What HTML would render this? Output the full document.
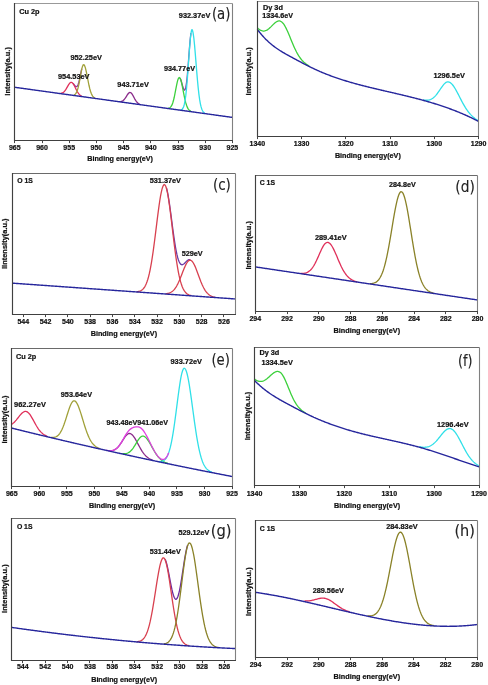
<!DOCTYPE html>
<html><head><meta charset="utf-8"><style>
html,body{margin:0;padding:0;background:#fff;}
body{width:488px;height:685px;overflow:hidden;}
svg{display:block;}
</style></head><body>
<svg width="488" height="685" viewBox="0 0 488 685">
<rect width="488" height="685" fill="#fff"/>
<path d="M73.02,83.3 L73.75,84.21 L74.48,85.2 L75.2,86.07 L75.93,86.63 L76.66,86.67 L77.39,86.02 L78.12,84.56 L78.84,82.27 L79.57,79.25 L80.3,75.74 L81.03,72.09 L81.75,68.75" fill="none" stroke="#8a3aa0" stroke-width="1.3"/>
<path d="M180,77.96 L180.73,79.47 L181.46,81.74 L182.18,84.42 L182.91,87.05 L183.64,89.13 L184.37,90.14 L185.1,89.61 L185.82,87.13 L186.55,82.51 L187.28,75.79 L188.01,67.32 L188.73,57.78 L189.46,48.14 L190.19,39.55 L190.92,33.13" fill="none" stroke="#8a3aa0" stroke-width="1.3"/>
<path d="M60.65,93.3 L61.38,93.19 L62.1,92.98 L62.83,92.65 L63.56,92.17 L64.29,91.51 L65.02,90.66 L65.74,89.63 L66.47,88.44 L67.2,87.16 L67.93,85.85 L68.65,84.61 L69.38,83.55 L70.11,82.77 L70.84,82.35 L71.57,82.33 L72.29,82.74 L73.02,83.54 L73.75,84.66 L74.48,86.01 L75.2,87.49 L75.93,89 L76.66,90.45 L77.39,91.77 L78.12,92.92 L78.84,93.89 L79.57,94.67 L80.3,95.28 L81.03,95.75 L81.75,96.11" fill="none" stroke="#e0305a" stroke-width="1.3"/>
<path d="M73.75,95.01 L74.48,94.74 L75.2,94.24 L75.93,93.39 L76.66,92.08 L77.39,90.21 L78.12,87.7 L78.84,84.54 L79.57,80.84 L80.3,76.82 L81.03,72.8 L81.75,69.2 L82.48,66.44 L83.21,64.87 L83.94,64.7 L84.66,65.76 L85.39,67.88 L86.12,70.85 L86.85,74.4 L87.58,78.21 L88.3,82 L89.03,85.52 L89.76,88.63 L90.49,91.23 L91.21,93.31 L91.94,94.9 L92.67,96.08 L93.4,96.93 L94.13,97.53 L94.85,97.94" fill="none" stroke="#a0a038" stroke-width="1.3"/>
<path d="M120.33,101.59 L121.05,101.49 L121.78,101.29 L122.51,100.96 L123.24,100.47 L123.96,99.8 L124.69,98.95 L125.42,97.93 L126.15,96.79 L126.87,95.62 L127.6,94.49 L128.33,93.53 L129.06,92.84 L129.79,92.51 L130.51,92.58 L131.24,93.06 L131.97,93.91 L132.7,95.04 L133.42,96.35 L134.15,97.73 L134.88,99.07 L135.61,100.31 L136.34,101.39 L137.06,102.29 L137.79,103 L138.52,103.55 L139.25,103.97 L139.97,104.29" fill="none" stroke="#8a2a8a" stroke-width="1.3"/>
<path d="M168.36,108.22 L169.08,108.06 L169.81,107.73 L170.54,107.16 L171.27,106.24 L172,104.89 L172.72,103.01 L173.45,100.55 L174.18,97.51 L174.91,93.99 L175.63,90.16 L176.36,86.31 L177.09,82.78 L177.82,79.94 L178.55,78.1 L179.27,77.5 L180,78.12 L180.73,79.81 L181.46,82.41 L182.18,85.69 L182.91,89.36 L183.64,93.13 L184.37,96.76 L185.1,100.07 L185.82,102.92 L186.55,105.28 L187.28,107.14 L188.01,108.57 L188.73,109.61 L189.46,110.37 L190.19,110.9 L190.92,111.28" fill="none" stroke="#3cd03c" stroke-width="1.3"/>
<path d="M180.73,109.91 L181.46,109.68 L182.18,109.18 L182.91,108.24 L183.64,106.65 L184.37,104.14 L185.1,100.4 L185.82,95.17 L186.55,88.29 L187.28,79.81 L188.01,70.01 L188.73,59.53 L189.46,49.24 L190.19,40.21 L190.92,33.51 L191.65,30 L192.37,30.01 L193.1,32.81 L193.83,38.01 L194.56,45.14 L195.28,53.58 L196.01,62.65 L196.74,71.73 L197.47,80.27 L198.2,87.89 L198.92,94.38 L199.65,99.67 L200.38,103.8 L201.11,106.91 L201.83,109.17 L202.56,110.76 L203.29,111.84 L204.02,112.57 L204.75,113.06" fill="none" stroke="#30e0e8" stroke-width="1.3"/>
<path d="M14.8,87.3 L15.53,87.4 L16.26,87.5 L16.98,87.6 L17.71,87.7 L18.44,87.8 L19.17,87.9 L19.89,88 L20.62,88.11 L21.35,88.21 L22.08,88.31 L22.81,88.41 L23.53,88.51 L24.26,88.61 L24.99,88.71 L25.72,88.81 L26.44,88.91 L27.17,89.01 L27.9,89.11 L28.63,89.21 L29.36,89.31 L30.08,89.41 L30.81,89.51 L31.54,89.62 L32.27,89.72 L32.99,89.82 L33.72,89.92 L34.45,90.02 L35.18,90.12 L35.91,90.22 L36.63,90.32 L37.36,90.42 L38.09,90.52 L38.82,90.62 L39.54,90.72 L40.27,90.82 L41,90.92 L41.73,91.02 L42.45,91.13 L43.18,91.23 L43.91,91.33 L44.64,91.43 L45.37,91.53 L46.09,91.63 L46.82,91.73 L47.55,91.83 L48.28,91.93 L49,92.03 L49.73,92.13 L50.46,92.23 L51.19,92.33 L51.92,92.43 L52.64,92.53 L53.37,92.64 L54.1,92.74 L54.83,92.84 L55.55,92.94 L56.28,93.04 L57.01,93.14 L57.74,93.24 L58.47,93.34 L59.19,93.44 L59.92,93.54 L60.65,93.64 L61.38,93.74 L62.1,93.84 L62.83,93.94 L63.56,94.04 L64.29,94.15 L65.02,94.25 L65.74,94.35 L66.47,94.45 L67.2,94.55 L67.93,94.65 L68.65,94.75 L69.38,94.85 L70.11,94.95 L70.84,95.05 L71.57,95.15 L72.29,95.25 L73.02,95.35 L73.75,95.45 L74.48,95.55 L75.2,95.66 L75.93,95.76 L76.66,95.86 L77.39,95.96 L78.12,96.06 L78.84,96.16 L79.57,96.26 L80.3,96.36 L81.03,96.46 L81.75,96.56 L82.48,96.66 L83.21,96.76 L83.94,96.86 L84.66,96.96 L85.39,97.06 L86.12,97.17 L86.85,97.27 L87.58,97.37 L88.3,97.47 L89.03,97.57 L89.76,97.67 L90.49,97.77 L91.21,97.87 L91.94,97.97 L92.67,98.07 L93.4,98.17 L94.13,98.27 L94.85,98.37 L95.58,98.47 L96.31,98.57 L97.04,98.68 L97.76,98.78 L98.49,98.88 L99.22,98.98 L99.95,99.08 L100.68,99.18 L101.4,99.28 L102.13,99.38 L102.86,99.48 L103.59,99.58 L104.31,99.68 L105.04,99.78 L105.77,99.88 L106.5,99.98 L107.23,100.08 L107.95,100.19 L108.68,100.29 L109.41,100.39 L110.14,100.49 L110.86,100.59 L111.59,100.69 L112.32,100.79 L113.05,100.89 L113.78,100.99 L114.5,101.09 L115.23,101.19 L115.96,101.29 L116.69,101.39 L117.41,101.49 L118.14,101.59 L118.87,101.7 L119.6,101.8 L120.33,101.9 L121.05,102 L121.78,102.1 L122.51,102.2 L123.24,102.3 L123.96,102.4 L124.69,102.5 L125.42,102.6 L126.15,102.7 L126.87,102.8 L127.6,102.9 L128.33,103 L129.06,103.11 L129.79,103.21 L130.51,103.31 L131.24,103.41 L131.97,103.51 L132.7,103.61 L133.42,103.71 L134.15,103.81 L134.88,103.91 L135.61,104.01 L136.34,104.11 L137.06,104.21 L137.79,104.31 L138.52,104.41 L139.25,104.51 L139.97,104.62 L140.7,104.72 L141.43,104.82 L142.16,104.92 L142.89,105.02 L143.61,105.12 L144.34,105.22 L145.07,105.32 L145.8,105.42 L146.52,105.52 L147.25,105.62 L147.98,105.72 L148.71,105.82 L149.44,105.92 L150.16,106.02 L150.89,106.13 L151.62,106.23 L152.35,106.33 L153.07,106.43 L153.8,106.53 L154.53,106.63 L155.26,106.73 L155.99,106.83 L156.71,106.93 L157.44,107.03 L158.17,107.13 L158.9,107.23 L159.62,107.33 L160.35,107.43 L161.08,107.53 L161.81,107.64 L162.54,107.74 L163.26,107.84 L163.99,107.94 L164.72,108.04 L165.45,108.14 L166.17,108.24 L166.9,108.34 L167.63,108.44 L168.36,108.54 L169.08,108.64 L169.81,108.74 L170.54,108.84 L171.27,108.94 L172,109.04 L172.72,109.15 L173.45,109.25 L174.18,109.35 L174.91,109.45 L175.63,109.55 L176.36,109.65 L177.09,109.75 L177.82,109.85 L178.55,109.95 L179.27,110.05 L180,110.15 L180.73,110.25 L181.46,110.35 L182.18,110.45 L182.91,110.55 L183.64,110.66 L184.37,110.76 L185.1,110.86 L185.82,110.96 L186.55,111.06 L187.28,111.16 L188.01,111.26 L188.73,111.36 L189.46,111.46 L190.19,111.56 L190.92,111.66 L191.65,111.76 L192.37,111.86 L193.1,111.96 L193.83,112.06 L194.56,112.17 L195.28,112.27 L196.01,112.37 L196.74,112.47 L197.47,112.57 L198.2,112.67 L198.92,112.77 L199.65,112.87 L200.38,112.97 L201.11,113.07 L201.83,113.17 L202.56,113.27 L203.29,113.37 L204.02,113.47 L204.75,113.57 L205.47,113.68 L206.2,113.78 L206.93,113.88 L207.66,113.98 L208.38,114.08 L209.11,114.18 L209.84,114.28 L210.57,114.38 L211.29,114.48 L212.02,114.58 L212.75,114.68 L213.48,114.78 L214.21,114.88 L214.93,114.98 L215.66,115.08 L216.39,115.19 L217.12,115.29 L217.84,115.39 L218.57,115.49 L219.3,115.59 L220.03,115.69 L220.76,115.79 L221.48,115.89 L222.21,115.99 L222.94,116.09 L223.67,116.19 L224.39,116.29 L225.12,116.39 L225.85,116.49 L226.58,116.59 L227.31,116.7 L228.03,116.8 L228.76,116.9 L229.49,117 L230.22,117.1 L230.94,117.2 L231.67,117.3 L232.4,117.4" fill="none" stroke="#26269c" stroke-width="1.4"/>
<path d="M14.5,3.5 H232.5" stroke="#999" stroke-width="1.1" fill="none"/>
<path d="M232.5,3.5 V140.5" stroke="#808080" stroke-width="1.1" fill="none"/>
<path d="M14.5,3 V140.5 H233" stroke="#404040" stroke-width="1.15" fill="none"/>
<line x1="14.5" y1="140.5" x2="14.5" y2="143.1" stroke="#444" stroke-width="1"/>
<text x="14.8" y="149.8" font-size="7.0" font-weight="bold" text-anchor="middle" fill="#111" stroke="#111" stroke-width="0.22" font-family='"Liberation Sans", Arial, sans-serif'>965</text>
<line x1="42.5" y1="140.5" x2="42.5" y2="143.1" stroke="#444" stroke-width="1"/>
<text x="42" y="149.8" font-size="7.0" font-weight="bold" text-anchor="middle" fill="#111" stroke="#111" stroke-width="0.22" font-family='"Liberation Sans", Arial, sans-serif'>960</text>
<line x1="69.5" y1="140.5" x2="69.5" y2="143.1" stroke="#444" stroke-width="1"/>
<text x="69.2" y="149.8" font-size="7.0" font-weight="bold" text-anchor="middle" fill="#111" stroke="#111" stroke-width="0.22" font-family='"Liberation Sans", Arial, sans-serif'>955</text>
<line x1="96.5" y1="140.5" x2="96.5" y2="143.1" stroke="#444" stroke-width="1"/>
<text x="96.4" y="149.8" font-size="7.0" font-weight="bold" text-anchor="middle" fill="#111" stroke="#111" stroke-width="0.22" font-family='"Liberation Sans", Arial, sans-serif'>950</text>
<line x1="123.5" y1="140.5" x2="123.5" y2="143.1" stroke="#444" stroke-width="1"/>
<text x="123.6" y="149.8" font-size="7.0" font-weight="bold" text-anchor="middle" fill="#111" stroke="#111" stroke-width="0.22" font-family='"Liberation Sans", Arial, sans-serif'>945</text>
<line x1="150.5" y1="140.5" x2="150.5" y2="143.1" stroke="#444" stroke-width="1"/>
<text x="150.8" y="149.8" font-size="7.0" font-weight="bold" text-anchor="middle" fill="#111" stroke="#111" stroke-width="0.22" font-family='"Liberation Sans", Arial, sans-serif'>940</text>
<line x1="178.5" y1="140.5" x2="178.5" y2="143.1" stroke="#444" stroke-width="1"/>
<text x="178" y="149.8" font-size="7.0" font-weight="bold" text-anchor="middle" fill="#111" stroke="#111" stroke-width="0.22" font-family='"Liberation Sans", Arial, sans-serif'>935</text>
<line x1="205.5" y1="140.5" x2="205.5" y2="143.1" stroke="#444" stroke-width="1"/>
<text x="205.2" y="149.8" font-size="7.0" font-weight="bold" text-anchor="middle" fill="#111" stroke="#111" stroke-width="0.22" font-family='"Liberation Sans", Arial, sans-serif'>930</text>
<line x1="232.5" y1="140.5" x2="232.5" y2="143.1" stroke="#444" stroke-width="1"/>
<text x="232.4" y="149.8" font-size="7.0" font-weight="bold" text-anchor="middle" fill="#111" stroke="#111" stroke-width="0.22" font-family='"Liberation Sans", Arial, sans-serif'>925</text>
<text x="19.2" y="14" font-size="7.3" font-weight="bold" text-anchor="start" fill="#111" stroke="#111" stroke-width="0.22" font-family='"Liberation Sans", Arial, sans-serif'>Cu 2p</text>
<text x="70.4" y="60" font-size="7.3" font-weight="bold" text-anchor="start" fill="#111" stroke="#111" stroke-width="0.22" textLength="31.5" lengthAdjust="spacingAndGlyphs" font-family='"Liberation Sans", Arial, sans-serif'>952.25eV</text>
<text x="58" y="78.6" font-size="7.3" font-weight="bold" text-anchor="start" fill="#111" stroke="#111" stroke-width="0.22" textLength="31.5" lengthAdjust="spacingAndGlyphs" font-family='"Liberation Sans", Arial, sans-serif'>954.53eV</text>
<text x="117.3" y="87.1" font-size="7.3" font-weight="bold" text-anchor="start" fill="#111" stroke="#111" stroke-width="0.22" textLength="31.5" lengthAdjust="spacingAndGlyphs" font-family='"Liberation Sans", Arial, sans-serif'>943.71eV</text>
<text x="164" y="70.9" font-size="7.3" font-weight="bold" text-anchor="start" fill="#111" stroke="#111" stroke-width="0.22" textLength="31" lengthAdjust="spacingAndGlyphs" font-family='"Liberation Sans", Arial, sans-serif'>934.77eV</text>
<text x="178.8" y="18.4" font-size="7.3" font-weight="bold" text-anchor="start" fill="#111" stroke="#111" stroke-width="0.22" textLength="31.5" lengthAdjust="spacingAndGlyphs" font-family='"Liberation Sans", Arial, sans-serif'>932.37eV</text>
<text x="211.9" y="18.5" font-size="16" font-weight="normal" text-anchor="start" fill="#222" stroke="#222" stroke-width="0.12" textLength="18.6" lengthAdjust="spacingAndGlyphs" font-family='"DejaVu Sans", sans-serif'>(a)</text>
<text x="10.2" y="71.4" font-size="7.0" font-weight="bold" text-anchor="middle" fill="#111" stroke="#111" stroke-width="0.22" textLength="48.6" lengthAdjust="spacingAndGlyphs" transform="rotate(-90 10.2 71.4)" font-family='"Liberation Sans", Arial, sans-serif'>Intensity(a.u.)</text>
<text x="87.3" y="160.5" font-size="7.3" font-weight="bold" text-anchor="start" fill="#111" stroke="#111" stroke-width="0.22" textLength="65.7" lengthAdjust="spacingAndGlyphs" font-family='"Liberation Sans", Arial, sans-serif'>Binding energy(eV)</text>
<path d="M257.3,27.81 L258.04,28.49 L258.78,29.11 L259.52,29.64 L260.26,30.1 L261,30.47 L261.74,30.75 L262.48,30.94 L263.22,31.03 L263.96,31.03 L264.7,30.93 L265.44,30.74 L266.18,30.45 L266.92,30.08 L267.66,29.62 L268.4,29.08 L269.14,28.48 L269.88,27.81 L270.62,27.11 L271.36,26.37 L272.1,25.61 L272.84,24.86 L273.58,24.12 L274.32,23.42 L275.06,22.77 L275.8,22.2 L276.54,21.71 L277.28,21.34 L278.02,21.08 L278.76,20.95 L279.5,20.97 L280.24,21.14 L280.98,21.47 L281.72,21.97 L282.46,22.64 L283.2,23.48 L283.94,24.49 L284.68,25.65 L285.43,26.96 L286.17,28.39 L286.91,29.93 L287.65,31.57 L288.39,33.28 L289.13,35.05 L289.87,36.85 L290.61,38.67 L291.35,40.49 L292.09,42.28 L292.83,44.05 L293.57,45.77 L294.31,47.44 L295.05,49.04 L295.79,50.56 L296.53,52.01 L297.27,53.38 L298.01,54.66 L298.75,55.86 L299.49,56.98 L300.23,58.02 L300.97,58.98 L301.71,59.88 L302.45,60.71 L303.19,61.48 L303.93,62.19 L304.67,62.86 L305.41,63.47 L306.15,64.05 L306.89,64.6 L307.63,65.11 L308.37,65.6 L309.11,66.06" fill="none" stroke="#3cd03c" stroke-width="1.3"/>
<path d="M423.09,99.95 L423.83,100.06 L424.57,100.14 L425.31,100.2 L426.05,100.24 L426.79,100.23 L427.53,100.19 L428.27,100.1 L429.01,99.96 L429.75,99.76 L430.49,99.5 L431.23,99.17 L431.97,98.77 L432.71,98.29 L433.45,97.73 L434.19,97.09 L434.93,96.37 L435.67,95.57 L436.41,94.69 L437.15,93.75 L437.89,92.74 L438.63,91.69 L439.37,90.61 L440.11,89.5 L440.85,88.4 L441.59,87.31 L442.33,86.27 L443.07,85.29 L443.81,84.39 L444.55,83.6 L445.29,82.93 L446.03,82.4 L446.77,82.03 L447.51,81.84 L448.25,81.82 L448.99,82 L449.73,82.34 L450.47,82.81 L451.22,83.42 L451.96,84.16 L452.7,85.02 L453.44,86 L454.18,87.08 L454.92,88.25 L455.66,89.51 L456.4,90.83 L457.14,92.2 L457.88,93.62 L458.62,95.06 L459.36,96.51 L460.1,97.97 L460.84,99.42 L461.58,100.85 L462.32,102.25 L463.06,103.61 L463.8,104.93 L464.54,106.2 L465.28,107.42 L466.02,108.58 L466.76,109.69 L467.5,110.74 L468.24,111.73 L468.98,112.66 L469.72,113.54 L470.46,114.37 L471.2,115.15 L471.94,115.88 L472.68,116.57 L473.42,117.23 L474.16,117.84 L474.9,118.43 L475.64,118.99 L476.38,119.53 L477.12,120.04 L477.86,120.54 L478.6,121.02" fill="none" stroke="#30e0e8" stroke-width="1.3"/>
<path d="M257.3,29.33 L258.04,30.32 L258.78,31.28 L259.52,32.22 L260.26,33.13 L261,34.02 L261.74,34.89 L262.48,35.73 L263.22,36.56 L263.96,37.36 L264.7,38.14 L265.44,38.9 L266.18,39.64 L266.92,40.37 L267.66,41.07 L268.4,41.76 L269.14,42.42 L269.88,43.08 L270.62,43.71 L271.36,44.33 L272.1,44.94 L272.84,45.53 L273.58,46.1 L274.32,46.66 L275.06,47.21 L275.8,47.75 L276.54,48.27 L277.28,48.79 L278.02,49.29 L278.76,49.78 L279.5,50.26 L280.24,50.74 L280.98,51.2 L281.72,51.66 L282.46,52.1 L283.2,52.55 L283.94,52.98 L284.68,53.41 L285.43,53.83 L286.17,54.25 L286.91,54.67 L287.65,55.08 L288.39,55.48 L289.13,55.89 L289.87,56.29 L290.61,56.69 L291.35,57.09 L292.09,57.49 L292.83,57.89 L293.57,58.29 L294.31,58.69 L295.05,59.09 L295.79,59.48 L296.53,59.88 L297.27,60.28 L298.01,60.67 L298.75,61.07 L299.49,61.46 L300.23,61.85 L300.97,62.24 L301.71,62.63 L302.45,63.02 L303.19,63.41 L303.93,63.79 L304.67,64.17 L305.41,64.55 L306.15,64.93 L306.89,65.31 L307.63,65.68 L308.37,66.06 L309.11,66.43 L309.85,66.79 L310.59,67.16 L311.33,67.52 L312.07,67.88 L312.81,68.23 L313.55,68.59 L314.29,68.94 L315.03,69.28 L315.77,69.62 L316.51,69.96 L317.25,70.3 L317.99,70.63 L318.73,70.96 L319.47,71.28 L320.21,71.61 L320.95,71.92 L321.69,72.24 L322.43,72.55 L323.17,72.86 L323.91,73.16 L324.65,73.47 L325.39,73.76 L326.13,74.06 L326.87,74.35 L327.61,74.64 L328.35,74.93 L329.09,75.21 L329.83,75.49 L330.57,75.77 L331.31,76.04 L332.05,76.31 L332.79,76.58 L333.53,76.85 L334.27,77.11 L335.01,77.37 L335.75,77.63 L336.49,77.89 L337.23,78.14 L337.97,78.39 L338.71,78.64 L339.45,78.89 L340.19,79.13 L340.94,79.37 L341.68,79.61 L342.42,79.85 L343.16,80.08 L343.9,80.31 L344.64,80.54 L345.38,80.77 L346.12,81 L346.86,81.22 L347.6,81.44 L348.34,81.66 L349.08,81.88 L349.82,82.1 L350.56,82.31 L351.3,82.52 L352.04,82.73 L352.78,82.94 L353.52,83.15 L354.26,83.36 L355,83.56 L355.74,83.76 L356.48,83.97 L357.22,84.17 L357.96,84.36 L358.7,84.56 L359.44,84.76 L360.18,84.95 L360.92,85.14 L361.66,85.34 L362.4,85.53 L363.14,85.72 L363.88,85.9 L364.62,86.09 L365.36,86.28 L366.1,86.46 L366.84,86.65 L367.58,86.83 L368.32,87.01 L369.06,87.2 L369.8,87.38 L370.54,87.56 L371.28,87.74 L372.02,87.92 L372.76,88.1 L373.5,88.27 L374.24,88.45 L374.98,88.63 L375.72,88.8 L376.46,88.98 L377.2,89.15 L377.94,89.33 L378.68,89.5 L379.42,89.68 L380.16,89.85 L380.9,90.02 L381.64,90.2 L382.38,90.37 L383.12,90.54 L383.86,90.71 L384.6,90.88 L385.34,91.06 L386.08,91.23 L386.82,91.4 L387.56,91.57 L388.3,91.74 L389.04,91.91 L389.78,92.08 L390.52,92.26 L391.26,92.43 L392,92.6 L392.74,92.77 L393.48,92.94 L394.22,93.11 L394.96,93.29 L395.71,93.46 L396.45,93.63 L397.19,93.81 L397.93,93.98 L398.67,94.15 L399.41,94.33 L400.15,94.5 L400.89,94.68 L401.63,94.85 L402.37,95.03 L403.11,95.21 L403.85,95.38 L404.59,95.56 L405.33,95.74 L406.07,95.92 L406.81,96.1 L407.55,96.28 L408.29,96.46 L409.03,96.64 L409.77,96.83 L410.51,97.01 L411.25,97.2 L411.99,97.38 L412.73,97.57 L413.47,97.76 L414.21,97.94 L414.95,98.13 L415.69,98.32 L416.43,98.52 L417.17,98.71 L417.91,98.9 L418.65,99.1 L419.39,99.29 L420.13,99.49 L420.87,99.69 L421.61,99.89 L422.35,100.09 L423.09,100.29 L423.83,100.5 L424.57,100.7 L425.31,100.91 L426.05,101.12 L426.79,101.33 L427.53,101.54 L428.27,101.75 L429.01,101.97 L429.75,102.18 L430.49,102.4 L431.23,102.62 L431.97,102.84 L432.71,103.06 L433.45,103.29 L434.19,103.52 L434.93,103.74 L435.67,103.97 L436.41,104.2 L437.15,104.44 L437.89,104.67 L438.63,104.91 L439.37,105.15 L440.11,105.39 L440.85,105.64 L441.59,105.88 L442.33,106.13 L443.07,106.38 L443.81,106.63 L444.55,106.89 L445.29,107.14 L446.03,107.4 L446.77,107.66 L447.51,107.92 L448.25,108.19 L448.99,108.46 L449.73,108.73 L450.47,109 L451.22,109.28 L451.96,109.55 L452.7,109.83 L453.44,110.12 L454.18,110.4 L454.92,110.69 L455.66,110.98 L456.4,111.27 L457.14,111.57 L457.88,111.87 L458.62,112.17 L459.36,112.47 L460.1,112.78 L460.84,113.09 L461.58,113.4 L462.32,113.72 L463.06,114.04 L463.8,114.36 L464.54,114.68 L465.28,115.01 L466.02,115.34 L466.76,115.67 L467.5,116.01 L468.24,116.35 L468.98,116.69 L469.72,117.04 L470.46,117.39 L471.2,117.74 L471.94,118.1 L472.68,118.46 L473.42,118.82 L474.16,119.18 L474.9,119.55 L475.64,119.93 L476.38,120.3 L477.12,120.68 L477.86,121.06 L478.6,121.45" fill="none" stroke="#26269c" stroke-width="1.4"/>
<path d="M257.5,1.5 H478.5" stroke="#999" stroke-width="1.1" fill="none"/>
<path d="M478.5,1.5 V136.5" stroke="#808080" stroke-width="1.1" fill="none"/>
<path d="M257.5,1 V136.5 H479" stroke="#404040" stroke-width="1.15" fill="none"/>
<line x1="257.5" y1="136.5" x2="257.5" y2="139.1" stroke="#444" stroke-width="1"/>
<text x="257.3" y="145.8" font-size="7.0" font-weight="bold" text-anchor="middle" fill="#111" stroke="#111" stroke-width="0.22" font-family='"Liberation Sans", Arial, sans-serif'>1340</text>
<line x1="301.5" y1="136.5" x2="301.5" y2="139.1" stroke="#444" stroke-width="1"/>
<text x="301.56" y="145.8" font-size="7.0" font-weight="bold" text-anchor="middle" fill="#111" stroke="#111" stroke-width="0.22" font-family='"Liberation Sans", Arial, sans-serif'>1330</text>
<line x1="345.5" y1="136.5" x2="345.5" y2="139.1" stroke="#444" stroke-width="1"/>
<text x="345.82" y="145.8" font-size="7.0" font-weight="bold" text-anchor="middle" fill="#111" stroke="#111" stroke-width="0.22" font-family='"Liberation Sans", Arial, sans-serif'>1320</text>
<line x1="390.5" y1="136.5" x2="390.5" y2="139.1" stroke="#444" stroke-width="1"/>
<text x="390.08" y="145.8" font-size="7.0" font-weight="bold" text-anchor="middle" fill="#111" stroke="#111" stroke-width="0.22" font-family='"Liberation Sans", Arial, sans-serif'>1310</text>
<line x1="434.5" y1="136.5" x2="434.5" y2="139.1" stroke="#444" stroke-width="1"/>
<text x="434.34" y="145.8" font-size="7.0" font-weight="bold" text-anchor="middle" fill="#111" stroke="#111" stroke-width="0.22" font-family='"Liberation Sans", Arial, sans-serif'>1300</text>
<line x1="478.5" y1="136.5" x2="478.5" y2="139.1" stroke="#444" stroke-width="1"/>
<text x="478.6" y="145.8" font-size="7.0" font-weight="bold" text-anchor="middle" fill="#111" stroke="#111" stroke-width="0.22" font-family='"Liberation Sans", Arial, sans-serif'>1290</text>
<text x="263" y="9.8" font-size="7.3" font-weight="bold" text-anchor="start" fill="#111" stroke="#111" stroke-width="0.22" font-family='"Liberation Sans", Arial, sans-serif'>Dy 3d</text>
<text x="262.3" y="18.1" font-size="7.3" font-weight="bold" text-anchor="start" fill="#111" stroke="#111" stroke-width="0.22" textLength="30.7" lengthAdjust="spacingAndGlyphs" font-family='"Liberation Sans", Arial, sans-serif'>1334.6eV</text>
<text x="433.4" y="77.8" font-size="7.3" font-weight="bold" text-anchor="start" fill="#111" stroke="#111" stroke-width="0.22" textLength="31.6" lengthAdjust="spacingAndGlyphs" font-family='"Liberation Sans", Arial, sans-serif'>1296.5eV</text>
<text x="251.2" y="71.35" font-size="7.0" font-weight="bold" text-anchor="middle" fill="#111" stroke="#111" stroke-width="0.22" textLength="48.1" lengthAdjust="spacingAndGlyphs" transform="rotate(-90 251.2 71.35)" font-family='"Liberation Sans", Arial, sans-serif'>intensity(a.u.)</text>
<text x="334.9" y="157.8" font-size="7.3" font-weight="bold" text-anchor="start" fill="#111" stroke="#111" stroke-width="0.22" textLength="65.9" lengthAdjust="spacingAndGlyphs" font-family='"Liberation Sans", Arial, sans-serif'>Binding energy(eV)</text>
<path d="M166.48,188 L167.23,190.96 L167.98,194.68 L168.72,199.05 L169.47,203.95 L170.21,209.25 L170.96,214.83 L171.71,220.53 L172.45,226.23 L173.2,231.81 L173.94,237.15 L174.69,242.16 L175.43,246.74 L176.18,250.85 L176.93,254.43 L177.67,257.46 L178.42,259.93 L179.16,261.85 L179.91,263.25 L180.66,264.16 L181.4,264.63 L182.15,264.73 L182.89,264.51 L183.64,264.05 L184.38,263.41 L185.13,262.67 L185.88,261.9 L186.62,261.16 L187.37,260.51 L188.11,260 L188.86,259.68 L189.61,259.58 L190.35,259.72" fill="none" stroke="#6a3aa8" stroke-width="1.3"/>
<path d="M136.65,291.65 L137.4,291.59 L138.14,291.5 L138.89,291.35 L139.64,291.15 L140.38,290.88 L141.13,290.52 L141.87,290.05 L142.62,289.44 L143.36,288.69 L144.11,287.75 L144.86,286.59 L145.6,285.2 L146.35,283.53 L147.09,281.55 L147.84,279.23 L148.58,276.56 L149.33,273.49 L150.08,270.02 L150.82,266.14 L151.57,261.85 L152.31,257.16 L153.06,252.09 L153.81,246.7 L154.55,241.02 L155.3,235.14 L156.04,229.13 L156.79,223.08 L157.53,217.1 L158.28,211.31 L159.03,205.81 L159.77,200.74 L160.52,196.19 L161.26,192.27 L162.01,189.09 L162.76,186.71 L163.5,185.21 L164.25,184.61 L164.99,184.95 L165.74,186.25 L166.48,188.49 L167.23,191.6 L167.98,195.5 L168.72,200.1 L169.47,205.29 L170.21,210.95 L170.96,216.94 L171.71,223.15 L172.45,229.46 L173.2,235.74 L173.94,241.9 L174.69,247.84 L175.43,253.49 L176.18,258.8 L176.93,263.71 L177.67,268.21 L178.42,272.27 L179.16,275.91 L179.91,279.11 L180.66,281.92 L181.4,284.34 L182.15,286.42 L182.89,288.18 L183.64,289.66 L184.38,290.89 L185.13,291.9 L185.88,292.74 L186.62,293.41 L187.37,293.96 L188.11,294.4 L188.86,294.76 L189.61,295.04 L190.35,295.27 L191.1,295.46" fill="none" stroke="#d8404f" stroke-width="1.3"/>
<path d="M165.74,293.65 L166.48,293.59 L167.23,293.49 L167.98,293.36 L168.72,293.18 L169.47,292.94 L170.21,292.65 L170.96,292.28 L171.71,291.82 L172.45,291.28 L173.2,290.63 L173.94,289.86 L174.69,288.98 L175.43,287.96 L176.18,286.81 L176.93,285.53 L177.67,284.12 L178.42,282.58 L179.16,280.92 L179.91,279.16 L180.66,277.32 L181.4,275.42 L182.15,273.5 L182.89,271.57 L183.64,269.68 L184.38,267.87 L185.13,266.17 L185.88,264.62 L186.62,263.25 L187.37,262.11 L188.11,261.21 L188.86,260.59 L189.61,260.25 L190.35,260.22 L191.1,260.48 L191.84,261.04 L192.59,261.88 L193.33,262.99 L194.08,264.33 L194.83,265.88 L195.57,267.6 L196.32,269.46 L197.06,271.41 L197.81,273.42 L198.55,275.46 L199.3,277.49 L200.05,279.47 L200.79,281.39 L201.54,283.21 L202.28,284.93 L203.03,286.52 L203.78,287.99 L204.52,289.32 L205.27,290.52 L206.01,291.59 L206.76,292.53 L207.5,293.36 L208.25,294.07 L209,294.68 L209.74,295.21 L210.49,295.65 L211.23,296.03 L211.98,296.35 L212.73,296.61 L213.47,296.83 L214.22,297.02 L214.96,297.18" fill="none" stroke="#d8404f" stroke-width="1.3"/>
<path d="M12.1,283.13 L12.85,283.19 L13.59,283.24 L14.34,283.29 L15.08,283.34 L15.83,283.4 L16.57,283.45 L17.32,283.5 L18.07,283.56 L18.81,283.61 L19.56,283.66 L20.3,283.71 L21.05,283.77 L21.8,283.82 L22.54,283.87 L23.29,283.93 L24.03,283.98 L24.78,284.03 L25.52,284.08 L26.27,284.14 L27.02,284.19 L27.76,284.24 L28.51,284.3 L29.25,284.35 L30,284.4 L30.75,284.45 L31.49,284.51 L32.24,284.56 L32.98,284.61 L33.73,284.67 L34.47,284.72 L35.22,284.77 L35.97,284.82 L36.71,284.88 L37.46,284.93 L38.2,284.98 L38.95,285.04 L39.7,285.09 L40.44,285.14 L41.19,285.19 L41.93,285.25 L42.68,285.3 L43.42,285.35 L44.17,285.41 L44.92,285.46 L45.66,285.51 L46.41,285.56 L47.15,285.62 L47.9,285.67 L48.65,285.72 L49.39,285.78 L50.14,285.83 L50.88,285.88 L51.63,285.93 L52.37,285.99 L53.12,286.04 L53.87,286.09 L54.61,286.15 L55.36,286.2 L56.1,286.25 L56.85,286.31 L57.59,286.36 L58.34,286.41 L59.09,286.46 L59.83,286.52 L60.58,286.57 L61.32,286.62 L62.07,286.68 L62.82,286.73 L63.56,286.78 L64.31,286.83 L65.05,286.89 L65.8,286.94 L66.54,286.99 L67.29,287.05 L68.04,287.1 L68.78,287.15 L69.53,287.2 L70.27,287.26 L71.02,287.31 L71.77,287.36 L72.51,287.42 L73.26,287.47 L74,287.52 L74.75,287.57 L75.49,287.63 L76.24,287.68 L76.99,287.73 L77.73,287.79 L78.48,287.84 L79.22,287.89 L79.97,287.94 L80.72,288 L81.46,288.05 L82.21,288.1 L82.95,288.16 L83.7,288.21 L84.44,288.26 L85.19,288.31 L85.94,288.37 L86.68,288.42 L87.43,288.47 L88.17,288.53 L88.92,288.58 L89.67,288.63 L90.41,288.68 L91.16,288.74 L91.9,288.79 L92.65,288.84 L93.39,288.9 L94.14,288.95 L94.89,289 L95.63,289.05 L96.38,289.11 L97.12,289.16 L97.87,289.21 L98.62,289.27 L99.36,289.32 L100.11,289.37 L100.85,289.42 L101.6,289.48 L102.34,289.53 L103.09,289.58 L103.84,289.64 L104.58,289.69 L105.33,289.74 L106.07,289.79 L106.82,289.85 L107.56,289.9 L108.31,289.95 L109.06,290.01 L109.8,290.06 L110.55,290.11 L111.29,290.16 L112.04,290.22 L112.79,290.27 L113.53,290.32 L114.28,290.38 L115.02,290.43 L115.77,290.48 L116.51,290.53 L117.26,290.59 L118.01,290.64 L118.75,290.69 L119.5,290.75 L120.24,290.8 L120.99,290.85 L121.74,290.9 L122.48,290.96 L123.23,291.01 L123.97,291.06 L124.72,291.12 L125.46,291.17 L126.21,291.22 L126.96,291.27 L127.7,291.33 L128.45,291.38 L129.19,291.43 L129.94,291.49 L130.69,291.54 L131.43,291.59 L132.18,291.65 L132.92,291.7 L133.67,291.75 L134.41,291.8 L135.16,291.86 L135.91,291.91 L136.65,291.96 L137.4,292.02 L138.14,292.07 L138.89,292.12 L139.64,292.17 L140.38,292.23 L141.13,292.28 L141.87,292.33 L142.62,292.39 L143.36,292.44 L144.11,292.49 L144.86,292.54 L145.6,292.6 L146.35,292.65 L147.09,292.7 L147.84,292.76 L148.58,292.81 L149.33,292.86 L150.08,292.91 L150.82,292.97 L151.57,293.02 L152.31,293.07 L153.06,293.13 L153.81,293.18 L154.55,293.23 L155.3,293.28 L156.04,293.34 L156.79,293.39 L157.53,293.44 L158.28,293.5 L159.03,293.55 L159.77,293.6 L160.52,293.65 L161.26,293.71 L162.01,293.76 L162.76,293.81 L163.5,293.87 L164.25,293.92 L164.99,293.97 L165.74,294.02 L166.48,294.08 L167.23,294.13 L167.98,294.18 L168.72,294.24 L169.47,294.29 L170.21,294.34 L170.96,294.39 L171.71,294.45 L172.45,294.5 L173.2,294.55 L173.94,294.61 L174.69,294.66 L175.43,294.71 L176.18,294.76 L176.93,294.82 L177.67,294.87 L178.42,294.92 L179.16,294.98 L179.91,295.03 L180.66,295.08 L181.4,295.13 L182.15,295.19 L182.89,295.24 L183.64,295.29 L184.38,295.35 L185.13,295.4 L185.88,295.45 L186.62,295.5 L187.37,295.56 L188.11,295.61 L188.86,295.66 L189.61,295.72 L190.35,295.77 L191.1,295.82 L191.84,295.87 L192.59,295.93 L193.33,295.98 L194.08,296.03 L194.83,296.09 L195.57,296.14 L196.32,296.19 L197.06,296.24 L197.81,296.3 L198.55,296.35 L199.3,296.4 L200.05,296.46 L200.79,296.51 L201.54,296.56 L202.28,296.61 L203.03,296.67 L203.78,296.72 L204.52,296.77 L205.27,296.83 L206.01,296.88 L206.76,296.93 L207.5,296.99 L208.25,297.04 L209,297.09 L209.74,297.14 L210.49,297.2 L211.23,297.25 L211.98,297.3 L212.73,297.36 L213.47,297.41 L214.22,297.46 L214.96,297.51 L215.71,297.57 L216.45,297.62 L217.2,297.67 L217.95,297.73 L218.69,297.78 L219.44,297.83 L220.18,297.88 L220.93,297.94 L221.68,297.99 L222.42,298.04 L223.17,298.1 L223.91,298.15 L224.66,298.2 L225.4,298.25 L226.15,298.31 L226.9,298.36 L227.64,298.41 L228.39,298.47 L229.13,298.52 L229.88,298.57 L230.63,298.62 L231.37,298.68 L232.12,298.73 L232.86,298.78 L233.61,298.84 L234.35,298.89 L235.1,298.94" fill="none" stroke="#26269c" stroke-width="1.4"/>
<path d="M12.5,173.5 H235.5" stroke="#6a6a6a" stroke-width="1.1" fill="none"/>
<path d="M235.5,173.5 V314.5" stroke="#808080" stroke-width="1.1" fill="none"/>
<path d="M12.5,173 V314.5 H236" stroke="#404040" stroke-width="1.15" fill="none"/>
<line x1="23.5" y1="314.5" x2="23.5" y2="317.1" stroke="#444" stroke-width="1"/>
<text x="23.25" y="323.8" font-size="7.0" font-weight="bold" text-anchor="middle" fill="#111" stroke="#111" stroke-width="0.22" font-family='"Liberation Sans", Arial, sans-serif'>544</text>
<line x1="45.5" y1="314.5" x2="45.5" y2="317.1" stroke="#444" stroke-width="1"/>
<text x="45.55" y="323.8" font-size="7.0" font-weight="bold" text-anchor="middle" fill="#111" stroke="#111" stroke-width="0.22" font-family='"Liberation Sans", Arial, sans-serif'>542</text>
<line x1="67.5" y1="314.5" x2="67.5" y2="317.1" stroke="#444" stroke-width="1"/>
<text x="67.85" y="323.8" font-size="7.0" font-weight="bold" text-anchor="middle" fill="#111" stroke="#111" stroke-width="0.22" font-family='"Liberation Sans", Arial, sans-serif'>540</text>
<line x1="90.5" y1="314.5" x2="90.5" y2="317.1" stroke="#444" stroke-width="1"/>
<text x="90.15" y="323.8" font-size="7.0" font-weight="bold" text-anchor="middle" fill="#111" stroke="#111" stroke-width="0.22" font-family='"Liberation Sans", Arial, sans-serif'>538</text>
<line x1="112.5" y1="314.5" x2="112.5" y2="317.1" stroke="#444" stroke-width="1"/>
<text x="112.45" y="323.8" font-size="7.0" font-weight="bold" text-anchor="middle" fill="#111" stroke="#111" stroke-width="0.22" font-family='"Liberation Sans", Arial, sans-serif'>536</text>
<line x1="134.5" y1="314.5" x2="134.5" y2="317.1" stroke="#444" stroke-width="1"/>
<text x="134.75" y="323.8" font-size="7.0" font-weight="bold" text-anchor="middle" fill="#111" stroke="#111" stroke-width="0.22" font-family='"Liberation Sans", Arial, sans-serif'>534</text>
<line x1="157.5" y1="314.5" x2="157.5" y2="317.1" stroke="#444" stroke-width="1"/>
<text x="157.05" y="323.8" font-size="7.0" font-weight="bold" text-anchor="middle" fill="#111" stroke="#111" stroke-width="0.22" font-family='"Liberation Sans", Arial, sans-serif'>532</text>
<line x1="179.5" y1="314.5" x2="179.5" y2="317.1" stroke="#444" stroke-width="1"/>
<text x="179.35" y="323.8" font-size="7.0" font-weight="bold" text-anchor="middle" fill="#111" stroke="#111" stroke-width="0.22" font-family='"Liberation Sans", Arial, sans-serif'>530</text>
<line x1="201.5" y1="314.5" x2="201.5" y2="317.1" stroke="#444" stroke-width="1"/>
<text x="201.65" y="323.8" font-size="7.0" font-weight="bold" text-anchor="middle" fill="#111" stroke="#111" stroke-width="0.22" font-family='"Liberation Sans", Arial, sans-serif'>528</text>
<line x1="223.5" y1="314.5" x2="223.5" y2="317.1" stroke="#444" stroke-width="1"/>
<text x="223.95" y="323.8" font-size="7.0" font-weight="bold" text-anchor="middle" fill="#111" stroke="#111" stroke-width="0.22" font-family='"Liberation Sans", Arial, sans-serif'>526</text>
<text x="17.2" y="182.7" font-size="7.3" font-weight="bold" text-anchor="start" fill="#111" stroke="#111" stroke-width="0.22" textLength="15.6" lengthAdjust="spacingAndGlyphs" font-family='"Liberation Sans", Arial, sans-serif'>O 1S</text>
<text x="149.7" y="183.2" font-size="7.3" font-weight="bold" text-anchor="start" fill="#111" stroke="#111" stroke-width="0.22" textLength="31.3" lengthAdjust="spacingAndGlyphs" font-family='"Liberation Sans", Arial, sans-serif'>531.37eV</text>
<text x="181.7" y="256.1" font-size="7.3" font-weight="bold" text-anchor="start" fill="#111" stroke="#111" stroke-width="0.22" textLength="21" lengthAdjust="spacingAndGlyphs" font-family='"Liberation Sans", Arial, sans-serif'>529eV</text>
<text x="212.9" y="189.7" font-size="16" font-weight="normal" text-anchor="start" fill="#222" stroke="#222" stroke-width="0.12" textLength="18" lengthAdjust="spacingAndGlyphs" font-family='"DejaVu Sans", sans-serif'>(c)</text>
<text x="7.1" y="243.7" font-size="7.0" font-weight="bold" text-anchor="middle" fill="#111" stroke="#111" stroke-width="0.22" textLength="50.6" lengthAdjust="spacingAndGlyphs" transform="rotate(-90 7.1 243.7)" font-family='"Liberation Sans", Arial, sans-serif'>Iintensity(a.u.)</text>
<text x="90.7" y="336.4" font-size="7.3" font-weight="bold" text-anchor="start" fill="#111" stroke="#111" stroke-width="0.22" textLength="66.4" lengthAdjust="spacingAndGlyphs" font-family='"Liberation Sans", Arial, sans-serif'>Binding energy(eV)</text>
<path d="M300.63,273.34 L301.37,273.37 L302.12,273.37 L302.86,273.34 L303.6,273.28 L304.35,273.18 L305.09,273.04 L305.83,272.85 L306.58,272.6 L307.32,272.29 L308.06,271.9 L308.81,271.42 L309.55,270.86 L310.29,270.2 L311.04,269.44 L311.78,268.57 L312.52,267.59 L313.27,266.5 L314.01,265.3 L314.75,263.99 L315.49,262.58 L316.24,261.08 L316.98,259.5 L317.72,257.87 L318.47,256.19 L319.21,254.49 L319.95,252.81 L320.7,251.15 L321.44,249.56 L322.18,248.07 L322.93,246.69 L323.67,245.47 L324.41,244.42 L325.16,243.56 L325.9,242.93 L326.64,242.53 L327.38,242.38 L328.13,242.47 L328.87,242.78 L329.61,243.29 L330.36,244.01 L331.1,244.92 L331.84,246 L332.59,247.24 L333.33,248.62 L334.07,250.12 L334.82,251.72 L335.56,253.39 L336.3,255.11 L337.05,256.87 L337.79,258.64 L338.53,260.39 L339.28,262.12 L340.02,263.81 L340.76,265.43 L341.5,266.99 L342.25,268.47 L342.99,269.86 L343.73,271.16 L344.48,272.37 L345.22,273.48 L345.96,274.5 L346.71,275.43 L347.45,276.27 L348.19,277.03 L348.94,277.71 L349.68,278.32 L350.42,278.86 L351.17,279.34 L351.91,279.77 L352.65,280.15 L353.39,280.49 L354.14,280.79 L354.88,281.06 L355.62,281.3 L356.37,281.52 L357.11,281.72" fill="none" stroke="#e0305a" stroke-width="1.3"/>
<path d="M369.74,283.55 L370.49,283.55 L371.23,283.53 L371.97,283.46 L372.72,283.36 L373.46,283.2 L374.2,282.98 L374.95,282.7 L375.69,282.33 L376.43,281.86 L377.18,281.28 L377.92,280.58 L378.66,279.73 L379.41,278.72 L380.15,277.54 L380.89,276.16 L381.63,274.57 L382.38,272.75 L383.12,270.7 L383.86,268.39 L384.61,265.82 L385.35,262.99 L386.09,259.89 L386.84,256.54 L387.58,252.94 L388.32,249.11 L389.07,245.07 L389.81,240.86 L390.55,236.52 L391.3,232.08 L392.04,227.59 L392.78,223.12 L393.52,218.72 L394.27,214.45 L395.01,210.37 L395.75,206.55 L396.5,203.06 L397.24,199.94 L397.98,197.26 L398.73,195.07 L399.47,193.39 L400.21,192.28 L400.96,191.74 L401.7,191.79 L402.44,192.44 L403.19,193.66 L403.93,195.45 L404.67,197.77 L405.42,200.58 L406.16,203.84 L406.9,207.48 L407.64,211.46 L408.39,215.72 L409.13,220.18 L409.87,224.78 L410.62,229.47 L411.36,234.17 L412.1,238.85 L412.85,243.44 L413.59,247.9 L414.33,252.19 L415.08,256.28 L415.82,260.15 L416.56,263.77 L417.31,267.14 L418.05,270.25 L418.79,273.09 L419.53,275.67 L420.28,277.99 L421.02,280.08 L421.76,281.93 L422.51,283.57 L423.25,285.01 L423.99,286.27 L424.74,287.37 L425.48,288.32 L426.22,289.15 L426.97,289.86 L427.71,290.46 L428.45,290.99 L429.2,291.44 L429.94,291.83 L430.68,292.16 L431.43,292.46 L432.17,292.71 L432.91,292.94 L433.65,293.14" fill="none" stroke="#8a8228" stroke-width="1.3"/>
<path d="M255.3,266.9 L256.04,267.01 L256.79,267.12 L257.53,267.23 L258.27,267.34 L259.02,267.45 L259.76,267.56 L260.5,267.67 L261.25,267.78 L261.99,267.89 L262.73,268 L263.47,268.11 L264.22,268.22 L264.96,268.33 L265.7,268.44 L266.45,268.55 L267.19,268.67 L267.93,268.78 L268.68,268.89 L269.42,269 L270.16,269.11 L270.91,269.22 L271.65,269.33 L272.39,269.44 L273.14,269.55 L273.88,269.66 L274.62,269.77 L275.36,269.88 L276.11,269.99 L276.85,270.1 L277.59,270.21 L278.34,270.32 L279.08,270.44 L279.82,270.55 L280.57,270.66 L281.31,270.77 L282.05,270.88 L282.8,270.99 L283.54,271.1 L284.28,271.21 L285.03,271.32 L285.77,271.43 L286.51,271.54 L287.26,271.65 L288,271.76 L288.74,271.87 L289.48,271.98 L290.23,272.09 L290.97,272.21 L291.71,272.32 L292.46,272.43 L293.2,272.54 L293.94,272.65 L294.69,272.76 L295.43,272.87 L296.17,272.98 L296.92,273.09 L297.66,273.2 L298.4,273.31 L299.15,273.42 L299.89,273.53 L300.63,273.64 L301.37,273.75 L302.12,273.86 L302.86,273.97 L303.6,274.09 L304.35,274.2 L305.09,274.31 L305.83,274.42 L306.58,274.53 L307.32,274.64 L308.06,274.75 L308.81,274.86 L309.55,274.97 L310.29,275.08 L311.04,275.19 L311.78,275.3 L312.52,275.41 L313.27,275.52 L314.01,275.63 L314.75,275.74 L315.49,275.86 L316.24,275.97 L316.98,276.08 L317.72,276.19 L318.47,276.3 L319.21,276.41 L319.95,276.52 L320.7,276.63 L321.44,276.74 L322.18,276.85 L322.93,276.96 L323.67,277.07 L324.41,277.18 L325.16,277.29 L325.9,277.4 L326.64,277.51 L327.38,277.63 L328.13,277.74 L328.87,277.85 L329.61,277.96 L330.36,278.07 L331.1,278.18 L331.84,278.29 L332.59,278.4 L333.33,278.51 L334.07,278.62 L334.82,278.73 L335.56,278.84 L336.3,278.95 L337.05,279.06 L337.79,279.17 L338.53,279.28 L339.28,279.4 L340.02,279.51 L340.76,279.62 L341.5,279.73 L342.25,279.84 L342.99,279.95 L343.73,280.06 L344.48,280.17 L345.22,280.28 L345.96,280.39 L346.71,280.5 L347.45,280.61 L348.19,280.72 L348.94,280.83 L349.68,280.94 L350.42,281.05 L351.17,281.17 L351.91,281.28 L352.65,281.39 L353.39,281.5 L354.14,281.61 L354.88,281.72 L355.62,281.83 L356.37,281.94 L357.11,282.05 L357.85,282.16 L358.6,282.27 L359.34,282.38 L360.08,282.49 L360.83,282.6 L361.57,282.71 L362.31,282.82 L363.06,282.94 L363.8,283.05 L364.54,283.16 L365.29,283.27 L366.03,283.38 L366.77,283.49 L367.51,283.6 L368.26,283.71 L369,283.82 L369.74,283.93 L370.49,284.04 L371.23,284.15 L371.97,284.26 L372.72,284.37 L373.46,284.48 L374.2,284.59 L374.95,284.71 L375.69,284.82 L376.43,284.93 L377.18,285.04 L377.92,285.15 L378.66,285.26 L379.41,285.37 L380.15,285.48 L380.89,285.59 L381.63,285.7 L382.38,285.81 L383.12,285.92 L383.86,286.03 L384.61,286.14 L385.35,286.25 L386.09,286.36 L386.84,286.48 L387.58,286.59 L388.32,286.7 L389.07,286.81 L389.81,286.92 L390.55,287.03 L391.3,287.14 L392.04,287.25 L392.78,287.36 L393.52,287.47 L394.27,287.58 L395.01,287.69 L395.75,287.8 L396.5,287.91 L397.24,288.02 L397.98,288.13 L398.73,288.24 L399.47,288.36 L400.21,288.47 L400.96,288.58 L401.7,288.69 L402.44,288.8 L403.19,288.91 L403.93,289.02 L404.67,289.13 L405.42,289.24 L406.16,289.35 L406.9,289.46 L407.64,289.57 L408.39,289.68 L409.13,289.79 L409.87,289.9 L410.62,290.01 L411.36,290.13 L412.1,290.24 L412.85,290.35 L413.59,290.46 L414.33,290.57 L415.08,290.68 L415.82,290.79 L416.56,290.9 L417.31,291.01 L418.05,291.12 L418.79,291.23 L419.53,291.34 L420.28,291.45 L421.02,291.56 L421.76,291.67 L422.51,291.78 L423.25,291.9 L423.99,292.01 L424.74,292.12 L425.48,292.23 L426.22,292.34 L426.97,292.45 L427.71,292.56 L428.45,292.67 L429.2,292.78 L429.94,292.89 L430.68,293 L431.43,293.11 L432.17,293.22 L432.91,293.33 L433.65,293.44 L434.4,293.55 L435.14,293.67 L435.88,293.78 L436.63,293.89 L437.37,294 L438.11,294.11 L438.86,294.22 L439.6,294.33 L440.34,294.44 L441.09,294.55 L441.83,294.66 L442.57,294.77 L443.32,294.88 L444.06,294.99 L444.8,295.1 L445.54,295.21 L446.29,295.32 L447.03,295.44 L447.77,295.55 L448.52,295.66 L449.26,295.77 L450,295.88 L450.75,295.99 L451.49,296.1 L452.23,296.21 L452.98,296.32 L453.72,296.43 L454.46,296.54 L455.21,296.65 L455.95,296.76 L456.69,296.87 L457.44,296.98 L458.18,297.09 L458.92,297.21 L459.66,297.32 L460.41,297.43 L461.15,297.54 L461.89,297.65 L462.64,297.76 L463.38,297.87 L464.12,297.98 L464.87,298.09 L465.61,298.2 L466.35,298.31 L467.1,298.42 L467.84,298.53 L468.58,298.64 L469.33,298.75 L470.07,298.86 L470.81,298.98 L471.55,299.09 L472.3,299.2 L473.04,299.31 L473.78,299.42 L474.53,299.53 L475.27,299.64 L476.01,299.75 L476.76,299.86 L477.5,299.97" fill="none" stroke="#26269c" stroke-width="1.4"/>
<path d="M255.5,175.5 H477.5" stroke="#6a6a6a" stroke-width="1.1" fill="none"/>
<path d="M477.5,175.5 V311.5" stroke="#808080" stroke-width="1.1" fill="none"/>
<path d="M255.5,175 V311.5 H478" stroke="#404040" stroke-width="1.15" fill="none"/>
<line x1="255.5" y1="311.5" x2="255.5" y2="314.1" stroke="#444" stroke-width="1"/>
<text x="255.3" y="321.1" font-size="7.0" font-weight="bold" text-anchor="middle" fill="#111" stroke="#111" stroke-width="0.22" font-family='"Liberation Sans", Arial, sans-serif'>294</text>
<line x1="287.5" y1="311.5" x2="287.5" y2="314.1" stroke="#444" stroke-width="1"/>
<text x="287.04" y="321.1" font-size="7.0" font-weight="bold" text-anchor="middle" fill="#111" stroke="#111" stroke-width="0.22" font-family='"Liberation Sans", Arial, sans-serif'>292</text>
<line x1="318.5" y1="311.5" x2="318.5" y2="314.1" stroke="#444" stroke-width="1"/>
<text x="318.79" y="321.1" font-size="7.0" font-weight="bold" text-anchor="middle" fill="#111" stroke="#111" stroke-width="0.22" font-family='"Liberation Sans", Arial, sans-serif'>290</text>
<line x1="350.5" y1="311.5" x2="350.5" y2="314.1" stroke="#444" stroke-width="1"/>
<text x="350.53" y="321.1" font-size="7.0" font-weight="bold" text-anchor="middle" fill="#111" stroke="#111" stroke-width="0.22" font-family='"Liberation Sans", Arial, sans-serif'>288</text>
<line x1="382.5" y1="311.5" x2="382.5" y2="314.1" stroke="#444" stroke-width="1"/>
<text x="382.27" y="321.1" font-size="7.0" font-weight="bold" text-anchor="middle" fill="#111" stroke="#111" stroke-width="0.22" font-family='"Liberation Sans", Arial, sans-serif'>286</text>
<line x1="414.5" y1="311.5" x2="414.5" y2="314.1" stroke="#444" stroke-width="1"/>
<text x="414.01" y="321.1" font-size="7.0" font-weight="bold" text-anchor="middle" fill="#111" stroke="#111" stroke-width="0.22" font-family='"Liberation Sans", Arial, sans-serif'>284</text>
<line x1="445.5" y1="311.5" x2="445.5" y2="314.1" stroke="#444" stroke-width="1"/>
<text x="445.76" y="321.1" font-size="7.0" font-weight="bold" text-anchor="middle" fill="#111" stroke="#111" stroke-width="0.22" font-family='"Liberation Sans", Arial, sans-serif'>282</text>
<line x1="477.5" y1="311.5" x2="477.5" y2="314.1" stroke="#444" stroke-width="1"/>
<text x="477.5" y="321.1" font-size="7.0" font-weight="bold" text-anchor="middle" fill="#111" stroke="#111" stroke-width="0.22" font-family='"Liberation Sans", Arial, sans-serif'>280</text>
<text x="259.7" y="185" font-size="7.3" font-weight="bold" text-anchor="start" fill="#111" stroke="#111" stroke-width="0.22" textLength="15.3" lengthAdjust="spacingAndGlyphs" font-family='"Liberation Sans", Arial, sans-serif'>C 1S</text>
<text x="314.9" y="239.5" font-size="7.3" font-weight="bold" text-anchor="start" fill="#111" stroke="#111" stroke-width="0.22" textLength="31.7" lengthAdjust="spacingAndGlyphs" font-family='"Liberation Sans", Arial, sans-serif'>289.41eV</text>
<text x="389" y="187.1" font-size="7.3" font-weight="bold" text-anchor="start" fill="#111" stroke="#111" stroke-width="0.22" textLength="26.7" lengthAdjust="spacingAndGlyphs" font-family='"Liberation Sans", Arial, sans-serif'>284.8eV</text>
<text x="455.3" y="192" font-size="16" font-weight="normal" text-anchor="start" fill="#222" stroke="#222" stroke-width="0.12" textLength="19.5" lengthAdjust="spacingAndGlyphs" font-family='"DejaVu Sans", sans-serif'>(d)</text>
<text x="251.1" y="245.3" font-size="7.0" font-weight="bold" text-anchor="middle" fill="#111" stroke="#111" stroke-width="0.22" textLength="48.6" lengthAdjust="spacingAndGlyphs" transform="rotate(-90 251.1 245.3)" font-family='"Liberation Sans", Arial, sans-serif'>Intensity(a.u.)</text>
<text x="333.5" y="333.1" font-size="7.3" font-weight="bold" text-anchor="start" fill="#111" stroke="#111" stroke-width="0.22" textLength="66.6" lengthAdjust="spacingAndGlyphs" font-family='"Liberation Sans", Arial, sans-serif'>Binding energy(eV)</text>
<path d="M11.8,424.21 L12.54,423.7 L13.27,423.12 L14.01,422.46 L14.75,421.73 L15.48,420.93 L16.22,420.08 L16.96,419.18 L17.69,418.26 L18.43,417.31 L19.16,416.37 L19.9,415.46 L20.64,414.58 L21.37,413.78 L22.11,413.06 L22.85,412.45 L23.58,411.97 L24.32,411.62 L25.06,411.44 L25.79,411.42 L26.53,411.57 L27.27,411.9 L28,412.42 L28.74,413.11 L29.47,413.96 L30.21,414.96 L30.95,416.08 L31.68,417.29 L32.42,418.58 L33.16,419.92 L33.89,421.28 L34.63,422.64 L35.37,423.98 L36.1,425.28 L36.84,426.53 L37.58,427.71 L38.31,428.81 L39.05,429.83 L39.79,430.77 L40.52,431.63 L41.26,432.4 L41.99,433.09 L42.73,433.71 L43.47,434.26 L44.2,434.76 L44.94,435.19 L45.68,435.59 L46.41,435.94 L47.15,436.25 L47.89,436.54" fill="none" stroke="#e0305a" stroke-width="1.3"/>
<path d="M50.83,437.29 L51.57,437.36 L52.31,437.4 L53.04,437.39 L53.78,437.33 L54.51,437.21 L55.25,437.02 L55.99,436.74 L56.72,436.36 L57.46,435.87 L58.2,435.24 L58.93,434.47 L59.67,433.54 L60.41,432.44 L61.14,431.16 L61.88,429.7 L62.62,428.07 L63.35,426.25 L64.09,424.28 L64.82,422.16 L65.56,419.94 L66.3,417.63 L67.03,415.28 L67.77,412.95 L68.51,410.67 L69.24,408.51 L69.98,406.52 L70.72,404.75 L71.45,403.26 L72.19,402.09 L72.93,401.27 L73.66,400.83 L74.4,400.8 L75.14,401.14 L75.87,401.8 L76.61,402.78 L77.34,404.06 L78.08,405.62 L78.82,407.41 L79.55,409.42 L80.29,411.59 L81.03,413.89 L81.76,416.27 L82.5,418.71 L83.24,421.15 L83.97,423.57 L84.71,425.94 L85.45,428.22 L86.18,430.39 L86.92,432.44 L87.65,434.36 L88.39,436.13 L89.13,437.75 L89.86,439.23 L90.6,440.56 L91.34,441.75 L92.07,442.81 L92.81,443.75 L93.55,444.57 L94.28,445.3 L95.02,445.93 L95.76,446.49 L96.49,446.97 L97.23,447.4 L97.97,447.78 L98.7,448.11 L99.44,448.42 L100.17,448.69" fill="none" stroke="#a0a038" stroke-width="1.3"/>
<path d="M109.01,450.61 L109.75,450.65 L110.48,450.65 L111.22,450.62 L111.96,450.53 L112.69,450.39 L113.43,450.19 L114.17,449.91 L114.9,449.56 L115.64,449.11 L116.38,448.58 L117.11,447.95 L117.85,447.22 L118.59,446.4 L119.32,445.48 L120.06,444.48 L120.8,443.41 L121.53,442.28 L122.27,441.12 L123,439.95 L123.74,438.79 L124.48,437.67 L125.21,436.63 L125.95,435.69 L126.69,434.89 L127.42,434.24 L128.16,433.77 L128.9,433.5 L129.63,433.45 L130.37,433.6 L131.11,433.95 L131.84,434.48 L132.58,435.18 L133.32,436.04 L134.05,437.04 L134.79,438.17 L135.52,439.39 L136.26,440.7 L137,442.05 L137.73,443.44 L138.47,444.83 L139.21,446.21 L139.94,447.56 L140.68,448.86 L141.42,450.1 L142.15,451.28 L142.89,452.37 L143.63,453.38 L144.36,454.31 L145.1,455.16 L145.83,455.92 L146.57,456.61 L147.31,457.23 L148.04,457.78 L148.78,458.27 L149.52,458.7 L150.25,459.09 L150.99,459.43 L151.73,459.74 L152.46,460.02 L153.2,460.28" fill="none" stroke="#8a2a8a" stroke-width="1.3"/>
<path d="M122.27,453.63 L123,453.68 L123.74,453.71 L124.48,453.69 L125.21,453.63 L125.95,453.52 L126.69,453.35 L127.42,453.1 L128.16,452.78 L128.9,452.36 L129.63,451.86 L130.37,451.25 L131.11,450.53 L131.84,449.72 L132.58,448.8 L133.32,447.79 L134.05,446.69 L134.79,445.53 L135.52,444.33 L136.26,443.1 L137,441.88 L137.73,440.69 L138.47,439.58 L139.21,438.56 L139.94,437.69 L140.68,436.97 L141.42,436.45 L142.15,436.14 L142.89,436.05 L143.63,436.19 L144.36,436.5 L145.1,436.98 L145.83,437.62 L146.57,438.4 L147.31,439.31 L148.04,440.34 L148.78,441.47 L149.52,442.68 L150.25,443.95 L150.99,445.26 L151.73,446.59 L152.46,447.92 L153.2,449.24 L153.94,450.52 L154.67,451.77 L155.41,452.95 L156.15,454.08 L156.88,455.14 L157.62,456.12 L158.35,457.03 L159.09,457.86 L159.83,458.62 L160.56,459.31 L161.3,459.94 L162.04,460.5 L162.77,461 L163.51,461.45 L164.25,461.85 L164.98,462.22 L165.72,462.55 L166.46,462.84 L167.19,463.11 L167.93,463.36" fill="none" stroke="#3cd03c" stroke-width="1.3"/>
<path d="M159.09,461.52 L159.83,461.54 L160.56,461.53 L161.3,461.45 L162.04,461.31 L162.77,461.08 L163.51,460.73 L164.25,460.26 L164.98,459.62 L165.72,458.79 L166.46,457.74 L167.19,456.43 L167.93,454.83 L168.66,452.9 L169.4,450.62 L170.14,447.94 L170.87,444.86 L171.61,441.36 L172.35,437.43 L173.08,433.09 L173.82,428.36 L174.56,423.28 L175.29,417.91 L176.03,412.33 L176.77,406.62 L177.5,400.89 L178.24,395.26 L178.98,389.85 L179.71,384.79 L180.45,380.21 L181.18,376.23 L181.92,372.95 L182.66,370.48 L183.39,368.88 L184.13,368.21 L184.87,368.45 L185.6,369.48 L186.34,371.26 L187.08,373.75 L187.81,376.91 L188.55,380.66 L189.29,384.92 L190.02,389.61 L190.76,394.64 L191.49,399.9 L192.23,405.31 L192.97,410.78 L193.7,416.21 L194.44,421.54 L195.18,426.7 L195.91,431.63 L196.65,436.28 L197.39,440.63 L198.12,444.64 L198.86,448.32 L199.6,451.64 L200.33,454.62 L201.07,457.28 L201.81,459.62 L202.54,461.66 L203.28,463.44 L204.01,464.97 L204.75,466.28 L205.49,467.39 L206.22,468.34 L206.96,469.15 L207.7,469.83 L208.43,470.4 L209.17,470.89 L209.91,471.31 L210.64,471.67 L211.38,471.98 L212.12,472.25" fill="none" stroke="#30e0e8" stroke-width="1.3"/>
<path d="M106.07,450.2 L106.8,450.33 L107.54,450.45 L108.28,450.54 L109.01,450.61 L109.75,450.65 L110.48,450.65 L111.22,450.61 L111.96,450.53 L112.69,450.39 L113.43,450.18 L114.17,449.91 L114.9,449.55 L115.64,449.1 L116.38,448.56 L117.11,447.92 L117.85,447.18 L118.59,446.33 L119.32,445.39 L120.06,444.36 L120.8,443.24 L121.53,442.05 L122.27,440.81 L123,439.53 L123.74,438.23 L124.48,436.94 L125.21,435.68 L125.95,434.47 L126.69,433.32 L127.42,432.27 L128.16,431.32 L128.9,430.48 L129.63,429.75 L130.37,429.14 L131.11,428.61 L131.84,428.16 L132.58,427.79 L133.32,427.48 L134.05,427.23 L134.79,427.03 L135.52,426.89 L136.26,426.8 L137,426.78 L137.73,426.82 L138.47,426.94 L139.21,427.15 L139.94,427.46 L140.68,427.89 L141.42,428.45 L142.15,429.16 L142.89,430 L143.63,431 L144.36,432.08 L145.1,433.25 L145.83,434.5 L146.57,435.81 L147.31,437.18 L148.04,438.6 L148.78,440.07 L149.52,441.55 L150.25,443.05 L150.99,444.55 L151.73,446.03 L152.46,447.48 L153.2,448.89 L153.94,450.25 L154.67,451.54 L155.41,452.76 L156.15,453.89 L156.88,454.94 L157.62,455.89 L158.35,456.75 L159.09,457.5 L159.83,458.14 L160.56,458.66 L161.3,459.06 L162.04,459.33 L162.77,459.45 L163.51,459.4 L164.25,459.18 L164.98,458.75 L165.72,458.1 L166.46,457.19 L167.19,456 L167.93,454.49 L168.66,452.64" fill="none" stroke="#e040e0" stroke-width="1.3"/>
<path d="M11.8,428.11 L12.54,428.29 L13.27,428.47 L14.01,428.66 L14.75,428.84 L15.48,429.02 L16.22,429.2 L16.96,429.39 L17.69,429.57 L18.43,429.75 L19.16,429.93 L19.9,430.11 L20.64,430.29 L21.37,430.47 L22.11,430.65 L22.85,430.84 L23.58,431.02 L24.32,431.2 L25.06,431.38 L25.79,431.56 L26.53,431.74 L27.27,431.92 L28,432.1 L28.74,432.28 L29.47,432.46 L30.21,432.63 L30.95,432.81 L31.68,432.99 L32.42,433.17 L33.16,433.35 L33.89,433.53 L34.63,433.71 L35.37,433.89 L36.1,434.06 L36.84,434.24 L37.58,434.42 L38.31,434.6 L39.05,434.78 L39.79,434.95 L40.52,435.13 L41.26,435.31 L41.99,435.48 L42.73,435.66 L43.47,435.84 L44.2,436.01 L44.94,436.19 L45.68,436.37 L46.41,436.54 L47.15,436.72 L47.89,436.9 L48.62,437.07 L49.36,437.25 L50.1,437.42 L50.83,437.6 L51.57,437.77 L52.31,437.95 L53.04,438.12 L53.78,438.3 L54.51,438.47 L55.25,438.65 L55.99,438.82 L56.72,439 L57.46,439.17 L58.2,439.34 L58.93,439.52 L59.67,439.69 L60.41,439.87 L61.14,440.04 L61.88,440.21 L62.62,440.39 L63.35,440.56 L64.09,440.73 L64.82,440.9 L65.56,441.08 L66.3,441.25 L67.03,441.42 L67.77,441.59 L68.51,441.77 L69.24,441.94 L69.98,442.11 L70.72,442.28 L71.45,442.45 L72.19,442.62 L72.93,442.79 L73.66,442.97 L74.4,443.14 L75.14,443.31 L75.87,443.48 L76.61,443.65 L77.34,443.82 L78.08,443.99 L78.82,444.16 L79.55,444.33 L80.29,444.5 L81.03,444.67 L81.76,444.84 L82.5,445.01 L83.24,445.18 L83.97,445.35 L84.71,445.51 L85.45,445.68 L86.18,445.85 L86.92,446.02 L87.65,446.19 L88.39,446.36 L89.13,446.52 L89.86,446.69 L90.6,446.86 L91.34,447.03 L92.07,447.2 L92.81,447.36 L93.55,447.53 L94.28,447.7 L95.02,447.86 L95.76,448.03 L96.49,448.2 L97.23,448.36 L97.97,448.53 L98.7,448.7 L99.44,448.86 L100.17,449.03 L100.91,449.19 L101.65,449.36 L102.38,449.53 L103.12,449.69 L103.86,449.86 L104.59,450.02 L105.33,450.19 L106.07,450.35 L106.8,450.52 L107.54,450.68 L108.28,450.85 L109.01,451.01 L109.75,451.17 L110.48,451.34 L111.22,451.5 L111.96,451.67 L112.69,451.83 L113.43,451.99 L114.17,452.16 L114.9,452.32 L115.64,452.48 L116.38,452.64 L117.11,452.81 L117.85,452.97 L118.59,453.13 L119.32,453.29 L120.06,453.46 L120.8,453.62 L121.53,453.78 L122.27,453.94 L123,454.1 L123.74,454.27 L124.48,454.43 L125.21,454.59 L125.95,454.75 L126.69,454.91 L127.42,455.07 L128.16,455.23 L128.9,455.39 L129.63,455.55 L130.37,455.71 L131.11,455.87 L131.84,456.03 L132.58,456.19 L133.32,456.35 L134.05,456.51 L134.79,456.67 L135.52,456.83 L136.26,456.99 L137,457.15 L137.73,457.31 L138.47,457.47 L139.21,457.62 L139.94,457.78 L140.68,457.94 L141.42,458.1 L142.15,458.26 L142.89,458.41 L143.63,458.57 L144.36,458.73 L145.1,458.89 L145.83,459.04 L146.57,459.2 L147.31,459.36 L148.04,459.52 L148.78,459.67 L149.52,459.83 L150.25,459.99 L150.99,460.14 L151.73,460.3 L152.46,460.45 L153.2,460.61 L153.94,460.77 L154.67,460.92 L155.41,461.08 L156.15,461.23 L156.88,461.39 L157.62,461.54 L158.35,461.7 L159.09,461.85 L159.83,462.01 L160.56,462.16 L161.3,462.31 L162.04,462.47 L162.77,462.62 L163.51,462.78 L164.25,462.93 L164.98,463.08 L165.72,463.24 L166.46,463.39 L167.19,463.54 L167.93,463.7 L168.66,463.85 L169.4,464 L170.14,464.16 L170.87,464.31 L171.61,464.46 L172.35,464.61 L173.08,464.76 L173.82,464.92 L174.56,465.07 L175.29,465.22 L176.03,465.37 L176.77,465.52 L177.5,465.67 L178.24,465.83 L178.98,465.98 L179.71,466.13 L180.45,466.28 L181.18,466.43 L181.92,466.58 L182.66,466.73 L183.39,466.88 L184.13,467.03 L184.87,467.18 L185.6,467.33 L186.34,467.48 L187.08,467.63 L187.81,467.78 L188.55,467.93 L189.29,468.07 L190.02,468.22 L190.76,468.37 L191.49,468.52 L192.23,468.67 L192.97,468.82 L193.7,468.97 L194.44,469.11 L195.18,469.26 L195.91,469.41 L196.65,469.56 L197.39,469.7 L198.12,469.85 L198.86,470 L199.6,470.15 L200.33,470.29 L201.07,470.44 L201.81,470.59 L202.54,470.73 L203.28,470.88 L204.01,471.02 L204.75,471.17 L205.49,471.32 L206.22,471.46 L206.96,471.61 L207.7,471.75 L208.43,471.9 L209.17,472.04 L209.91,472.19 L210.64,472.33 L211.38,472.48 L212.12,472.62 L212.85,472.77 L213.59,472.91 L214.33,473.06 L215.06,473.2 L215.8,473.34 L216.53,473.49 L217.27,473.63 L218.01,473.77 L218.74,473.92 L219.48,474.06 L220.22,474.2 L220.95,474.35 L221.69,474.49 L222.43,474.63 L223.16,474.78 L223.9,474.92 L224.64,475.06 L225.37,475.2 L226.11,475.34 L226.84,475.49 L227.58,475.63 L228.32,475.77 L229.05,475.91 L229.79,476.05 L230.53,476.19 L231.26,476.33 L232,476.47" fill="none" stroke="#26269c" stroke-width="1.4"/>
<path d="M11.5,348.5 H232.5" stroke="#6a6a6a" stroke-width="1.1" fill="none"/>
<path d="M232.5,348.5 V486.5" stroke="#808080" stroke-width="1.1" fill="none"/>
<path d="M11.5,348 V486.5 H233" stroke="#404040" stroke-width="1.15" fill="none"/>
<line x1="11.5" y1="486.5" x2="11.5" y2="489.1" stroke="#444" stroke-width="1"/>
<text x="11.8" y="495.7" font-size="7.0" font-weight="bold" text-anchor="middle" fill="#111" stroke="#111" stroke-width="0.22" font-family='"Liberation Sans", Arial, sans-serif'>965</text>
<line x1="39.5" y1="486.5" x2="39.5" y2="489.1" stroke="#444" stroke-width="1"/>
<text x="39.33" y="495.7" font-size="7.0" font-weight="bold" text-anchor="middle" fill="#111" stroke="#111" stroke-width="0.22" font-family='"Liberation Sans", Arial, sans-serif'>960</text>
<line x1="66.5" y1="486.5" x2="66.5" y2="489.1" stroke="#444" stroke-width="1"/>
<text x="66.85" y="495.7" font-size="7.0" font-weight="bold" text-anchor="middle" fill="#111" stroke="#111" stroke-width="0.22" font-family='"Liberation Sans", Arial, sans-serif'>955</text>
<line x1="94.5" y1="486.5" x2="94.5" y2="489.1" stroke="#444" stroke-width="1"/>
<text x="94.37" y="495.7" font-size="7.0" font-weight="bold" text-anchor="middle" fill="#111" stroke="#111" stroke-width="0.22" font-family='"Liberation Sans", Arial, sans-serif'>950</text>
<line x1="121.5" y1="486.5" x2="121.5" y2="489.1" stroke="#444" stroke-width="1"/>
<text x="121.9" y="495.7" font-size="7.0" font-weight="bold" text-anchor="middle" fill="#111" stroke="#111" stroke-width="0.22" font-family='"Liberation Sans", Arial, sans-serif'>945</text>
<line x1="149.5" y1="486.5" x2="149.5" y2="489.1" stroke="#444" stroke-width="1"/>
<text x="149.43" y="495.7" font-size="7.0" font-weight="bold" text-anchor="middle" fill="#111" stroke="#111" stroke-width="0.22" font-family='"Liberation Sans", Arial, sans-serif'>940</text>
<line x1="176.5" y1="486.5" x2="176.5" y2="489.1" stroke="#444" stroke-width="1"/>
<text x="176.95" y="495.7" font-size="7.0" font-weight="bold" text-anchor="middle" fill="#111" stroke="#111" stroke-width="0.22" font-family='"Liberation Sans", Arial, sans-serif'>935</text>
<line x1="204.5" y1="486.5" x2="204.5" y2="489.1" stroke="#444" stroke-width="1"/>
<text x="204.47" y="495.7" font-size="7.0" font-weight="bold" text-anchor="middle" fill="#111" stroke="#111" stroke-width="0.22" font-family='"Liberation Sans", Arial, sans-serif'>930</text>
<line x1="232.5" y1="486.5" x2="232.5" y2="489.1" stroke="#444" stroke-width="1"/>
<text x="232" y="495.7" font-size="7.0" font-weight="bold" text-anchor="middle" fill="#111" stroke="#111" stroke-width="0.22" font-family='"Liberation Sans", Arial, sans-serif'>925</text>
<text x="16" y="358.5" font-size="7.3" font-weight="bold" text-anchor="start" fill="#111" stroke="#111" stroke-width="0.22" font-family='"Liberation Sans", Arial, sans-serif'>Cu 2p</text>
<text x="14.1" y="406.8" font-size="7.3" font-weight="bold" text-anchor="start" fill="#111" stroke="#111" stroke-width="0.22" textLength="31.8" lengthAdjust="spacingAndGlyphs" font-family='"Liberation Sans", Arial, sans-serif'>962.27eV</text>
<text x="60.8" y="396.6" font-size="7.3" font-weight="bold" text-anchor="start" fill="#111" stroke="#111" stroke-width="0.22" textLength="31.2" lengthAdjust="spacingAndGlyphs" font-family='"Liberation Sans", Arial, sans-serif'>953.64eV</text>
<text x="106.6" y="424.9" font-size="7.3" font-weight="bold" text-anchor="start" fill="#111" stroke="#111" stroke-width="0.22" textLength="61.4" lengthAdjust="spacingAndGlyphs" font-family='"Liberation Sans", Arial, sans-serif'>943.48eV941.06eV</text>
<text x="170.5" y="363.6" font-size="7.3" font-weight="bold" text-anchor="start" fill="#111" stroke="#111" stroke-width="0.22" textLength="31.5" lengthAdjust="spacingAndGlyphs" font-family='"Liberation Sans", Arial, sans-serif'>933.72eV</text>
<text x="211.4" y="364.7" font-size="16" font-weight="normal" text-anchor="start" fill="#222" stroke="#222" stroke-width="0.12" textLength="18.5" lengthAdjust="spacingAndGlyphs" font-family='"DejaVu Sans", sans-serif'>(e)</text>
<text x="7.1" y="419.6" font-size="7.0" font-weight="bold" text-anchor="middle" fill="#111" stroke="#111" stroke-width="0.22" textLength="48" lengthAdjust="spacingAndGlyphs" transform="rotate(-90 7.1 419.6)" font-family='"Liberation Sans", Arial, sans-serif'>intensity(a.u.)</text>
<text x="89.1" y="508.1" font-size="7.3" font-weight="bold" text-anchor="start" fill="#111" stroke="#111" stroke-width="0.22" textLength="66.1" lengthAdjust="spacingAndGlyphs" font-family='"Liberation Sans", Arial, sans-serif'>Binding energy(eV)</text>
<path d="M254.5,379.09 L255.25,379.6 L256,380.06 L256.75,380.45 L257.5,380.78 L258.26,381.05 L259.01,381.24 L259.76,381.36 L260.51,381.41 L261.26,381.38 L262.01,381.27 L262.76,381.08 L263.51,380.81 L264.27,380.47 L265.02,380.06 L265.77,379.59 L266.52,379.05 L267.27,378.46 L268.02,377.82 L268.77,377.16 L269.52,376.47 L270.27,375.77 L271.03,375.08 L271.78,374.4 L272.53,373.76 L273.28,373.17 L274.03,372.65 L274.78,372.2 L275.53,371.85 L276.28,371.6 L277.04,371.46 L277.79,371.45 L278.54,371.58 L279.29,371.84 L280.04,372.25 L280.79,372.84 L281.54,373.64 L282.29,374.64 L283.04,375.81 L283.8,377.15 L284.55,378.63 L285.3,380.24 L286.05,381.94 L286.8,383.72 L287.55,385.55 L288.3,387.41 L289.05,389.27 L289.81,391.11 L290.56,392.91 L291.31,394.66 L292.06,396.34 L292.81,397.94 L293.56,399.46 L294.31,400.88 L295.06,402.21 L295.81,403.45 L296.57,404.59 L297.32,405.64 L298.07,406.61 L298.82,407.5 L299.57,408.32 L300.32,409.08 L301.07,409.77 L301.82,410.41 L302.57,411.01 L303.33,411.56 L304.08,412.08 L304.83,412.57 L305.58,413.04" fill="none" stroke="#3cd03c" stroke-width="1.3"/>
<path d="M419.01,446.77 L419.76,446.9 L420.51,447.01 L421.26,447.11 L422.01,447.19 L422.76,447.25 L423.51,447.29 L424.26,447.29 L425.02,447.27 L425.77,447.21 L426.52,447.11 L427.27,446.97 L428.02,446.79 L428.77,446.55 L429.52,446.26 L430.27,445.92 L431.03,445.52 L431.78,445.07 L432.53,444.55 L433.28,443.97 L434.03,443.34 L434.78,442.64 L435.53,441.89 L436.28,441.09 L437.03,440.25 L437.79,439.36 L438.54,438.45 L439.29,437.51 L440.04,436.56 L440.79,435.6 L441.54,434.66 L442.29,433.74 L443.04,432.86 L443.79,432.03 L444.55,431.25 L445.3,430.56 L446.05,429.95 L446.8,429.43 L447.55,429.03 L448.3,428.75 L449.05,428.59 L449.8,428.56 L450.56,428.67 L451.31,428.92 L452.06,429.3 L452.81,429.82 L453.56,430.48 L454.31,431.26 L455.06,432.15 L455.81,433.16 L456.56,434.27 L457.32,435.47 L458.07,436.75 L458.82,438.08 L459.57,439.47 L460.32,440.9 L461.07,442.35 L461.82,443.81 L462.57,445.27 L463.33,446.72 L464.08,448.15 L464.83,449.54 L465.58,450.9 L466.33,452.21 L467.08,453.47 L467.83,454.68 L468.58,455.82 L469.33,456.9 L470.09,457.92 L470.84,458.88 L471.59,459.78 L472.34,460.62 L473.09,461.4 L473.84,462.12 L474.59,462.8 L475.34,463.42 L476.1,464 L476.85,464.54 L477.6,465.03 L478.35,465.5 L479.1,465.93" fill="none" stroke="#30e0e8" stroke-width="1.3"/>
<path d="M254.5,380.44 L255.25,381.21 L256,381.97 L256.75,382.7 L257.5,383.43 L258.26,384.13 L259.01,384.83 L259.76,385.51 L260.51,386.17 L261.26,386.82 L262.01,387.46 L262.76,388.09 L263.51,388.7 L264.27,389.3 L265.02,389.89 L265.77,390.47 L266.52,391.04 L267.27,391.59 L268.02,392.14 L268.77,392.67 L269.52,393.2 L270.27,393.72 L271.03,394.23 L271.78,394.73 L272.53,395.22 L273.28,395.7 L274.03,396.18 L274.78,396.65 L275.53,397.11 L276.28,397.57 L277.04,398.02 L277.79,398.46 L278.54,398.9 L279.29,399.34 L280.04,399.77 L280.79,400.19 L281.54,400.61 L282.29,401.03 L283.04,401.45 L283.8,401.86 L284.55,402.27 L285.3,402.68 L286.05,403.08 L286.8,403.49 L287.55,403.89 L288.3,404.29 L289.05,404.7 L289.81,405.1 L290.56,405.5 L291.31,405.91 L292.06,406.31 L292.81,406.71 L293.56,407.11 L294.31,407.51 L295.06,407.91 L295.81,408.31 L296.57,408.71 L297.32,409.1 L298.07,409.5 L298.82,409.89 L299.57,410.28 L300.32,410.67 L301.07,411.06 L301.82,411.45 L302.57,411.83 L303.33,412.21 L304.08,412.6 L304.83,412.97 L305.58,413.35 L306.33,413.72 L307.08,414.09 L307.83,414.46 L308.58,414.82 L309.34,415.18 L310.09,415.54 L310.84,415.9 L311.59,416.25 L312.34,416.6 L313.09,416.94 L313.84,417.29 L314.59,417.62 L315.34,417.96 L316.1,418.29 L316.85,418.62 L317.6,418.95 L318.35,419.27 L319.1,419.59 L319.85,419.91 L320.6,420.23 L321.35,420.54 L322.11,420.85 L322.86,421.15 L323.61,421.46 L324.36,421.76 L325.11,422.05 L325.86,422.35 L326.61,422.64 L327.36,422.93 L328.11,423.22 L328.87,423.5 L329.62,423.78 L330.37,424.06 L331.12,424.34 L331.87,424.61 L332.62,424.88 L333.37,425.15 L334.12,425.41 L334.88,425.68 L335.63,425.94 L336.38,426.2 L337.13,426.45 L337.88,426.71 L338.63,426.96 L339.38,427.21 L340.13,427.45 L340.88,427.7 L341.64,427.94 L342.39,428.18 L343.14,428.42 L343.89,428.65 L344.64,428.89 L345.39,429.12 L346.14,429.35 L346.89,429.57 L347.65,429.8 L348.4,430.02 L349.15,430.24 L349.9,430.46 L350.65,430.68 L351.4,430.89 L352.15,431.11 L352.9,431.32 L353.65,431.53 L354.41,431.74 L355.16,431.94 L355.91,432.15 L356.66,432.35 L357.41,432.55 L358.16,432.75 L358.91,432.94 L359.66,433.14 L360.42,433.33 L361.17,433.52 L361.92,433.71 L362.67,433.9 L363.42,434.09 L364.17,434.28 L364.92,434.46 L365.67,434.65 L366.42,434.83 L367.18,435.01 L367.93,435.19 L368.68,435.37 L369.43,435.54 L370.18,435.72 L370.93,435.9 L371.68,436.07 L372.43,436.24 L373.18,436.42 L373.94,436.59 L374.69,436.76 L375.44,436.93 L376.19,437.1 L376.94,437.27 L377.69,437.44 L378.44,437.6 L379.19,437.77 L379.95,437.94 L380.7,438.1 L381.45,438.27 L382.2,438.44 L382.95,438.6 L383.7,438.77 L384.45,438.93 L385.2,439.1 L385.95,439.26 L386.71,439.43 L387.46,439.59 L388.21,439.75 L388.96,439.92 L389.71,440.08 L390.46,440.25 L391.21,440.42 L391.96,440.58 L392.72,440.75 L393.47,440.91 L394.22,441.08 L394.97,441.25 L395.72,441.42 L396.47,441.58 L397.22,441.75 L397.97,441.92 L398.72,442.09 L399.48,442.26 L400.23,442.44 L400.98,442.61 L401.73,442.78 L402.48,442.96 L403.23,443.13 L403.98,443.31 L404.73,443.49 L405.49,443.66 L406.24,443.84 L406.99,444.03 L407.74,444.21 L408.49,444.39 L409.24,444.58 L409.99,444.76 L410.74,444.95 L411.49,445.14 L412.25,445.33 L413,445.52 L413.75,445.72 L414.5,445.91 L415.25,446.11 L416,446.31 L416.75,446.51 L417.5,446.71 L418.26,446.92 L419.01,447.12 L419.76,447.33 L420.51,447.54 L421.26,447.75 L422.01,447.97 L422.76,448.19 L423.51,448.4 L424.26,448.62 L425.02,448.85 L425.77,449.07 L426.52,449.3 L427.27,449.52 L428.02,449.75 L428.77,449.98 L429.52,450.21 L430.27,450.45 L431.03,450.68 L431.78,450.92 L432.53,451.16 L433.28,451.4 L434.03,451.64 L434.78,451.88 L435.53,452.12 L436.28,452.37 L437.03,452.61 L437.79,452.86 L438.54,453.1 L439.29,453.35 L440.04,453.6 L440.79,453.85 L441.54,454.1 L442.29,454.36 L443.04,454.61 L443.79,454.86 L444.55,455.12 L445.3,455.37 L446.05,455.63 L446.8,455.89 L447.55,456.14 L448.3,456.4 L449.05,456.66 L449.8,456.92 L450.56,457.18 L451.31,457.43 L452.06,457.69 L452.81,457.95 L453.56,458.21 L454.31,458.47 L455.06,458.73 L455.81,458.99 L456.56,459.26 L457.32,459.52 L458.07,459.78 L458.82,460.04 L459.57,460.3 L460.32,460.56 L461.07,460.82 L461.82,461.08 L462.57,461.34 L463.33,461.6 L464.08,461.86 L464.83,462.11 L465.58,462.37 L466.33,462.63 L467.08,462.89 L467.83,463.14 L468.58,463.4 L469.33,463.66 L470.09,463.91 L470.84,464.16 L471.59,464.42 L472.34,464.67 L473.09,464.92 L473.84,465.17 L474.59,465.42 L475.34,465.67 L476.1,465.92 L476.85,466.16 L477.6,466.41 L478.35,466.65 L479.1,466.9" fill="none" stroke="#26269c" stroke-width="1.4"/>
<path d="M254.5,347.5 H479.5" stroke="#6a6a6a" stroke-width="1.1" fill="none"/>
<path d="M479.5,347.5 V485.5" stroke="#808080" stroke-width="1.1" fill="none"/>
<path d="M254.5,347 V485.5 H480" stroke="#404040" stroke-width="1.15" fill="none"/>
<line x1="254.5" y1="485.5" x2="254.5" y2="488.1" stroke="#444" stroke-width="1"/>
<text x="254.5" y="495.5" font-size="7.0" font-weight="bold" text-anchor="middle" fill="#111" stroke="#111" stroke-width="0.22" font-family='"Liberation Sans", Arial, sans-serif'>1340</text>
<line x1="299.5" y1="485.5" x2="299.5" y2="488.1" stroke="#444" stroke-width="1"/>
<text x="299.42" y="495.5" font-size="7.0" font-weight="bold" text-anchor="middle" fill="#111" stroke="#111" stroke-width="0.22" font-family='"Liberation Sans", Arial, sans-serif'>1330</text>
<line x1="344.5" y1="485.5" x2="344.5" y2="488.1" stroke="#444" stroke-width="1"/>
<text x="344.34" y="495.5" font-size="7.0" font-weight="bold" text-anchor="middle" fill="#111" stroke="#111" stroke-width="0.22" font-family='"Liberation Sans", Arial, sans-serif'>1320</text>
<line x1="389.5" y1="485.5" x2="389.5" y2="488.1" stroke="#444" stroke-width="1"/>
<text x="389.26" y="495.5" font-size="7.0" font-weight="bold" text-anchor="middle" fill="#111" stroke="#111" stroke-width="0.22" font-family='"Liberation Sans", Arial, sans-serif'>1310</text>
<line x1="434.5" y1="485.5" x2="434.5" y2="488.1" stroke="#444" stroke-width="1"/>
<text x="434.18" y="495.5" font-size="7.0" font-weight="bold" text-anchor="middle" fill="#111" stroke="#111" stroke-width="0.22" font-family='"Liberation Sans", Arial, sans-serif'>1300</text>
<line x1="479.5" y1="485.5" x2="479.5" y2="488.1" stroke="#444" stroke-width="1"/>
<text x="479.1" y="495.5" font-size="7.0" font-weight="bold" text-anchor="middle" fill="#111" stroke="#111" stroke-width="0.22" font-family='"Liberation Sans", Arial, sans-serif'>1290</text>
<text x="259.4" y="355.3" font-size="7.3" font-weight="bold" text-anchor="start" fill="#111" stroke="#111" stroke-width="0.22" font-family='"Liberation Sans", Arial, sans-serif'>Dy 3d</text>
<text x="261.4" y="365.1" font-size="7.3" font-weight="bold" text-anchor="start" fill="#111" stroke="#111" stroke-width="0.22" textLength="31.4" lengthAdjust="spacingAndGlyphs" font-family='"Liberation Sans", Arial, sans-serif'>1334.5eV</text>
<text x="437" y="426.7" font-size="7.3" font-weight="bold" text-anchor="start" fill="#111" stroke="#111" stroke-width="0.22" textLength="31.6" lengthAdjust="spacingAndGlyphs" font-family='"Liberation Sans", Arial, sans-serif'>1296.4eV</text>
<text x="250.3" y="416" font-size="7.0" font-weight="bold" text-anchor="middle" fill="#111" stroke="#111" stroke-width="0.22" textLength="48.6" lengthAdjust="spacingAndGlyphs" transform="rotate(-90 250.3 416)" font-family='"Liberation Sans", Arial, sans-serif'>Intensity(a.u.)</text>
<text x="334" y="507.8" font-size="7.3" font-weight="bold" text-anchor="start" fill="#111" stroke="#111" stroke-width="0.22" textLength="66.1" lengthAdjust="spacingAndGlyphs" font-family='"Liberation Sans", Arial, sans-serif'>Binding energy(eV)</text>
<text x="458" y="366.2" font-size="16" font-weight="normal" text-anchor="start" fill="#222" stroke="#222" stroke-width="0.12" textLength="14.5" lengthAdjust="spacingAndGlyphs" font-family='"DejaVu Sans", sans-serif'>(f)</text>
<path d="M165.18,559.21 L165.93,561.16 L166.68,563.74 L167.43,566.84 L168.18,570.35 L168.92,574.15 L169.67,578.09 L170.42,582.05 L171.17,585.87 L171.92,589.43 L172.67,592.6 L173.42,595.25 L174.17,597.31 L174.92,598.68 L175.67,599.31 L176.42,599.17 L177.17,598.23 L177.91,596.51 L178.66,594.06 L179.41,590.92 L180.16,587.18 L180.91,582.93 L181.66,578.32 L182.41,573.45 L183.16,568.49 L183.91,563.58 L184.66,558.88 L185.41,554.55 L186.16,550.71 L186.9,547.5 L187.65,545.03" fill="none" stroke="#6a2aa0" stroke-width="1.3"/>
<path d="M136.71,641.61 L137.46,641.56 L138.21,641.48 L138.96,641.34 L139.71,641.15 L140.46,640.89 L141.21,640.54 L141.95,640.09 L142.7,639.51 L143.45,638.78 L144.2,637.87 L144.95,636.77 L145.7,635.44 L146.45,633.86 L147.2,632 L147.95,629.85 L148.7,627.37 L149.45,624.57 L150.2,621.42 L150.94,617.95 L151.69,614.15 L152.44,610.05 L153.19,605.68 L153.94,601.1 L154.69,596.36 L155.44,591.54 L156.19,586.7 L156.94,581.95 L157.69,577.38 L158.44,573.08 L159.19,569.15 L159.93,565.69 L160.68,562.77 L161.43,560.47 L162.18,558.86 L162.93,557.97 L163.68,557.84 L164.43,558.5 L165.18,559.96 L165.93,562.17 L166.68,565.09 L167.43,568.63 L168.18,572.69 L168.92,577.19 L169.67,582 L170.42,587.03 L171.17,592.16 L171.92,597.3 L172.67,602.35 L173.42,607.23 L174.17,611.88 L174.92,616.24 L175.67,620.28 L176.42,623.96 L177.17,627.29 L177.91,630.25 L178.66,632.85 L179.41,635.12 L180.16,637.07 L180.91,638.73 L181.66,640.13 L182.41,641.3 L183.16,642.27 L183.91,643.06 L184.66,643.71 L185.41,644.23 L186.16,644.65 L186.9,644.99 L187.65,645.26 L188.4,645.48 L189.15,645.65" fill="none" stroke="#d8404f" stroke-width="1.3"/>
<path d="M163.68,643.76 L164.43,643.67 L165.18,643.53 L165.93,643.33 L166.68,643.04 L167.43,642.67 L168.18,642.17 L168.92,641.52 L169.67,640.71 L170.42,639.69 L171.17,638.44 L171.92,636.91 L172.67,635.08 L173.42,632.92 L174.17,630.38 L174.92,627.44 L175.67,624.09 L176.42,620.32 L177.17,616.11 L177.91,611.49 L178.66,606.48 L179.41,601.12 L180.16,595.48 L180.91,589.63 L181.66,583.67 L182.41,577.69 L183.16,571.81 L183.91,566.16 L184.66,560.87 L185.41,556.05 L186.16,551.85 L186.9,548.35 L187.65,545.66 L188.4,543.86 L189.15,542.98 L189.9,543.04 L190.65,543.92 L191.4,545.57 L192.15,547.96 L192.9,551.04 L193.65,554.74 L194.4,558.98 L195.15,563.67 L195.89,568.72 L196.64,574.04 L197.39,579.52 L198.14,585.07 L198.89,590.6 L199.64,596.04 L200.39,601.32 L201.14,606.37 L201.89,611.14 L202.64,615.61 L203.39,619.73 L204.14,623.51 L204.88,626.93 L205.63,630 L206.38,632.72 L207.13,635.11 L207.88,637.2 L208.63,639 L209.38,640.54 L210.13,641.85 L210.88,642.96 L211.63,643.88 L212.38,644.65 L213.13,645.28 L213.87,645.8 L214.62,646.22 L215.37,646.57 L216.12,646.85 L216.87,647.07 L217.62,647.26 L218.37,647.41" fill="none" stroke="#8a8228" stroke-width="1.3"/>
<path d="M11.6,627.4 L12.35,627.51 L13.1,627.62 L13.85,627.72 L14.6,627.83 L15.35,627.93 L16.09,628.04 L16.84,628.15 L17.59,628.25 L18.34,628.36 L19.09,628.46 L19.84,628.57 L20.59,628.67 L21.34,628.78 L22.09,628.88 L22.84,628.98 L23.59,629.09 L24.34,629.19 L25.08,629.29 L25.83,629.4 L26.58,629.5 L27.33,629.6 L28.08,629.7 L28.83,629.81 L29.58,629.91 L30.33,630.01 L31.08,630.11 L31.83,630.21 L32.58,630.31 L33.33,630.41 L34.07,630.51 L34.82,630.61 L35.57,630.71 L36.32,630.81 L37.07,630.91 L37.82,631.01 L38.57,631.11 L39.32,631.21 L40.07,631.3 L40.82,631.4 L41.57,631.5 L42.32,631.6 L43.06,631.7 L43.81,631.79 L44.56,631.89 L45.31,631.99 L46.06,632.08 L46.81,632.18 L47.56,632.27 L48.31,632.37 L49.06,632.46 L49.81,632.56 L50.56,632.65 L51.31,632.75 L52.05,632.84 L52.8,632.94 L53.55,633.03 L54.3,633.12 L55.05,633.22 L55.8,633.31 L56.55,633.4 L57.3,633.5 L58.05,633.59 L58.8,633.68 L59.55,633.77 L60.3,633.86 L61.04,633.96 L61.79,634.05 L62.54,634.14 L63.29,634.23 L64.04,634.32 L64.79,634.41 L65.54,634.5 L66.29,634.59 L67.04,634.68 L67.79,634.77 L68.54,634.86 L69.29,634.94 L70.03,635.03 L70.78,635.12 L71.53,635.21 L72.28,635.3 L73.03,635.38 L73.78,635.47 L74.53,635.56 L75.28,635.65 L76.03,635.73 L76.78,635.82 L77.53,635.9 L78.28,635.99 L79.02,636.08 L79.77,636.16 L80.52,636.25 L81.27,636.33 L82.02,636.41 L82.77,636.5 L83.52,636.58 L84.27,636.67 L85.02,636.75 L85.77,636.83 L86.52,636.92 L87.27,637 L88.01,637.08 L88.76,637.16 L89.51,637.25 L90.26,637.33 L91.01,637.41 L91.76,637.49 L92.51,637.57 L93.26,637.65 L94.01,637.73 L94.76,637.81 L95.51,637.89 L96.26,637.97 L97,638.05 L97.75,638.13 L98.5,638.21 L99.25,638.29 L100,638.37 L100.75,638.45 L101.5,638.53 L102.25,638.6 L103,638.68 L103.75,638.76 L104.5,638.84 L105.25,638.91 L105.99,638.99 L106.74,639.07 L107.49,639.14 L108.24,639.22 L108.99,639.3 L109.74,639.37 L110.49,639.45 L111.24,639.52 L111.99,639.6 L112.74,639.67 L113.49,639.74 L114.24,639.82 L114.98,639.89 L115.73,639.97 L116.48,640.04 L117.23,640.11 L117.98,640.19 L118.73,640.26 L119.48,640.33 L120.23,640.4 L120.98,640.47 L121.73,640.55 L122.48,640.62 L123.23,640.69 L123.97,640.76 L124.72,640.83 L125.47,640.9 L126.22,640.97 L126.97,641.04 L127.72,641.11 L128.47,641.18 L129.22,641.25 L129.97,641.32 L130.72,641.39 L131.47,641.45 L132.22,641.52 L132.96,641.59 L133.71,641.66 L134.46,641.73 L135.21,641.79 L135.96,641.86 L136.71,641.93 L137.46,641.99 L138.21,642.06 L138.96,642.12 L139.71,642.19 L140.46,642.26 L141.21,642.32 L141.95,642.39 L142.7,642.45 L143.45,642.52 L144.2,642.58 L144.95,642.64 L145.7,642.71 L146.45,642.77 L147.2,642.83 L147.95,642.9 L148.7,642.96 L149.45,643.02 L150.2,643.08 L150.94,643.15 L151.69,643.21 L152.44,643.27 L153.19,643.33 L153.94,643.39 L154.69,643.45 L155.44,643.51 L156.19,643.57 L156.94,643.63 L157.69,643.69 L158.44,643.75 L159.19,643.81 L159.93,643.87 L160.68,643.93 L161.43,643.99 L162.18,644.05 L162.93,644.11 L163.68,644.16 L164.43,644.22 L165.18,644.28 L165.93,644.34 L166.68,644.39 L167.43,644.45 L168.18,644.51 L168.92,644.56 L169.67,644.62 L170.42,644.67 L171.17,644.73 L171.92,644.79 L172.67,644.84 L173.42,644.9 L174.17,644.95 L174.92,645 L175.67,645.06 L176.42,645.11 L177.17,645.17 L177.91,645.22 L178.66,645.27 L179.41,645.32 L180.16,645.38 L180.91,645.43 L181.66,645.48 L182.41,645.53 L183.16,645.58 L183.91,645.64 L184.66,645.69 L185.41,645.74 L186.16,645.79 L186.9,645.84 L187.65,645.89 L188.4,645.94 L189.15,645.99 L189.9,646.04 L190.65,646.09 L191.4,646.14 L192.15,646.18 L192.9,646.23 L193.65,646.28 L194.4,646.33 L195.15,646.38 L195.89,646.42 L196.64,646.47 L197.39,646.52 L198.14,646.56 L198.89,646.61 L199.64,646.66 L200.39,646.7 L201.14,646.75 L201.89,646.79 L202.64,646.84 L203.39,646.88 L204.14,646.93 L204.88,646.97 L205.63,647.02 L206.38,647.06 L207.13,647.11 L207.88,647.15 L208.63,647.19 L209.38,647.24 L210.13,647.28 L210.88,647.32 L211.63,647.36 L212.38,647.41 L213.13,647.45 L213.87,647.49 L214.62,647.53 L215.37,647.57 L216.12,647.61 L216.87,647.65 L217.62,647.69 L218.37,647.73 L219.12,647.77 L219.87,647.81 L220.62,647.85 L221.37,647.89 L222.12,647.93 L222.86,647.97 L223.61,648.01 L224.36,648.04 L225.11,648.08 L225.86,648.12 L226.61,648.16 L227.36,648.19 L228.11,648.23 L228.86,648.27 L229.61,648.3 L230.36,648.34 L231.11,648.38 L231.85,648.41 L232.6,648.45 L233.35,648.48 L234.1,648.52 L234.85,648.55 L235.6,648.59" fill="none" stroke="#26269c" stroke-width="1.4"/>
<path d="M11.5,518.5 H235.5" stroke="#6a6a6a" stroke-width="1.1" fill="none"/>
<path d="M235.5,518.5 V660.5" stroke="#808080" stroke-width="1.1" fill="none"/>
<path d="M11.5,518 V660.5 H236" stroke="#404040" stroke-width="1.15" fill="none"/>
<line x1="22.5" y1="660.5" x2="22.5" y2="663.1" stroke="#444" stroke-width="1"/>
<text x="22.8" y="669.2" font-size="7.0" font-weight="bold" text-anchor="middle" fill="#111" stroke="#111" stroke-width="0.22" font-family='"Liberation Sans", Arial, sans-serif'>544</text>
<line x1="45.5" y1="660.5" x2="45.5" y2="663.1" stroke="#444" stroke-width="1"/>
<text x="45.2" y="669.2" font-size="7.0" font-weight="bold" text-anchor="middle" fill="#111" stroke="#111" stroke-width="0.22" font-family='"Liberation Sans", Arial, sans-serif'>542</text>
<line x1="67.5" y1="660.5" x2="67.5" y2="663.1" stroke="#444" stroke-width="1"/>
<text x="67.6" y="669.2" font-size="7.0" font-weight="bold" text-anchor="middle" fill="#111" stroke="#111" stroke-width="0.22" font-family='"Liberation Sans", Arial, sans-serif'>540</text>
<line x1="89.5" y1="660.5" x2="89.5" y2="663.1" stroke="#444" stroke-width="1"/>
<text x="90" y="669.2" font-size="7.0" font-weight="bold" text-anchor="middle" fill="#111" stroke="#111" stroke-width="0.22" font-family='"Liberation Sans", Arial, sans-serif'>538</text>
<line x1="112.5" y1="660.5" x2="112.5" y2="663.1" stroke="#444" stroke-width="1"/>
<text x="112.4" y="669.2" font-size="7.0" font-weight="bold" text-anchor="middle" fill="#111" stroke="#111" stroke-width="0.22" font-family='"Liberation Sans", Arial, sans-serif'>536</text>
<line x1="134.5" y1="660.5" x2="134.5" y2="663.1" stroke="#444" stroke-width="1"/>
<text x="134.8" y="669.2" font-size="7.0" font-weight="bold" text-anchor="middle" fill="#111" stroke="#111" stroke-width="0.22" font-family='"Liberation Sans", Arial, sans-serif'>534</text>
<line x1="157.5" y1="660.5" x2="157.5" y2="663.1" stroke="#444" stroke-width="1"/>
<text x="157.2" y="669.2" font-size="7.0" font-weight="bold" text-anchor="middle" fill="#111" stroke="#111" stroke-width="0.22" font-family='"Liberation Sans", Arial, sans-serif'>532</text>
<line x1="179.5" y1="660.5" x2="179.5" y2="663.1" stroke="#444" stroke-width="1"/>
<text x="179.6" y="669.2" font-size="7.0" font-weight="bold" text-anchor="middle" fill="#111" stroke="#111" stroke-width="0.22" font-family='"Liberation Sans", Arial, sans-serif'>530</text>
<line x1="202.5" y1="660.5" x2="202.5" y2="663.1" stroke="#444" stroke-width="1"/>
<text x="202" y="669.2" font-size="7.0" font-weight="bold" text-anchor="middle" fill="#111" stroke="#111" stroke-width="0.22" font-family='"Liberation Sans", Arial, sans-serif'>528</text>
<line x1="224.5" y1="660.5" x2="224.5" y2="663.1" stroke="#444" stroke-width="1"/>
<text x="224.4" y="669.2" font-size="7.0" font-weight="bold" text-anchor="middle" fill="#111" stroke="#111" stroke-width="0.22" font-family='"Liberation Sans", Arial, sans-serif'>526</text>
<text x="16.9" y="528.9" font-size="7.3" font-weight="bold" text-anchor="start" fill="#111" stroke="#111" stroke-width="0.22" textLength="15.6" lengthAdjust="spacingAndGlyphs" font-family='"Liberation Sans", Arial, sans-serif'>O 1S</text>
<text x="149.8" y="554.2" font-size="7.3" font-weight="bold" text-anchor="start" fill="#111" stroke="#111" stroke-width="0.22" textLength="30.9" lengthAdjust="spacingAndGlyphs" font-family='"Liberation Sans", Arial, sans-serif'>531.44eV</text>
<text x="178.5" y="535" font-size="7.3" font-weight="bold" text-anchor="start" fill="#111" stroke="#111" stroke-width="0.22" textLength="30.9" lengthAdjust="spacingAndGlyphs" font-family='"Liberation Sans", Arial, sans-serif'>529.12eV</text>
<text x="210.8" y="535.7" font-size="16" font-weight="normal" text-anchor="start" fill="#222" stroke="#222" stroke-width="0.12" textLength="20.8" lengthAdjust="spacingAndGlyphs" font-family='"DejaVu Sans", sans-serif'>(g)</text>
<text x="7.5" y="588.6" font-size="7.0" font-weight="bold" text-anchor="middle" fill="#111" stroke="#111" stroke-width="0.22" textLength="48.6" lengthAdjust="spacingAndGlyphs" transform="rotate(-90 7.5 588.6)" font-family='"Liberation Sans", Arial, sans-serif'>intensity(a.u.)</text>
<text x="91.2" y="681.7" font-size="7.3" font-weight="bold" text-anchor="start" fill="#111" stroke="#111" stroke-width="0.22" textLength="65.9" lengthAdjust="spacingAndGlyphs" font-family='"Liberation Sans", Arial, sans-serif'>Binding energy(eV)</text>
<path d="M304.44,600.9 L305.18,600.94 L305.92,600.95 L306.66,600.95 L307.4,600.93 L308.14,600.89 L308.89,600.83 L309.63,600.75 L310.37,600.65 L311.11,600.53 L311.85,600.38 L312.59,600.22 L313.33,600.05 L314.08,599.86 L314.82,599.66 L315.56,599.46 L316.3,599.26 L317.04,599.05 L317.78,598.86 L318.53,598.68 L319.27,598.51 L320.01,598.37 L320.75,598.26 L321.49,598.18 L322.23,598.13 L322.97,598.13 L323.72,598.17 L324.46,598.25 L325.2,598.38 L325.94,598.56 L326.68,598.79 L327.42,599.07 L328.16,599.39 L328.91,599.75 L329.65,600.15 L330.39,600.59 L331.13,601.06 L331.87,601.55 L332.61,602.07 L333.35,602.6 L334.1,603.15 L334.84,603.7 L335.58,604.25 L336.32,604.8 L337.06,605.35 L337.8,605.88 L338.54,606.4 L339.29,606.9 L340.03,607.39 L340.77,607.85 L341.51,608.29 L342.25,608.72 L342.99,609.12 L343.74,609.49 L344.48,609.85 L345.22,610.19 L345.96,610.51 L346.7,610.81 L347.44,611.09 L348.18,611.36 L348.93,611.62 L349.67,611.86" fill="none" stroke="#e0305a" stroke-width="1.3"/>
<path d="M367.46,615.8 L368.2,615.86 L368.95,615.89 L369.69,615.89 L370.43,615.85 L371.17,615.77 L371.91,615.64 L372.65,615.45 L373.39,615.19 L374.14,614.85 L374.88,614.42 L375.62,613.89 L376.36,613.24 L377.1,612.47 L377.84,611.55 L378.58,610.48 L379.33,609.23 L380.07,607.8 L380.81,606.18 L381.55,604.35 L382.29,602.31 L383.03,600.06 L383.77,597.58 L384.52,594.87 L385.26,591.96 L386,588.83 L386.74,585.51 L387.48,582.02 L388.22,578.37 L388.96,574.6 L389.71,570.74 L390.45,566.83 L391.19,562.91 L391.93,559.03 L392.67,555.22 L393.41,551.56 L394.16,548.07 L394.9,544.82 L395.64,541.85 L396.38,539.21 L397.12,536.95 L397.86,535.09 L398.6,533.67 L399.35,532.71 L400.09,532.24 L400.83,532.26 L401.57,532.77 L402.31,533.77 L403.05,535.24 L403.79,537.16 L404.54,539.5 L405.28,542.23 L406.02,545.31 L406.76,548.68 L407.5,552.31 L408.24,556.14 L408.98,560.12 L409.73,564.2 L410.47,568.34 L411.21,572.49 L411.95,576.59 L412.69,580.62 L413.43,584.55 L414.17,588.32 L414.92,591.93 L415.66,595.36 L416.4,598.58 L417.14,601.58 L417.88,604.37 L418.62,606.93 L419.37,609.27 L420.11,611.4 L420.85,613.32 L421.59,615.03 L422.33,616.56 L423.07,617.92 L423.81,619.11 L424.56,620.15 L425.3,621.06 L426.04,621.84 L426.78,622.52 L427.52,623.1 L428.26,623.6 L429,624.02 L429.75,624.38 L430.49,624.68 L431.23,624.94 L431.97,625.15 L432.71,625.34 L433.45,625.49 L434.19,625.62" fill="none" stroke="#8a8228" stroke-width="1.3"/>
<path d="M255.5,592.35 L256.24,592.46 L256.98,592.56 L257.72,592.67 L258.47,592.78 L259.21,592.89 L259.95,593 L260.69,593.11 L261.43,593.23 L262.17,593.34 L262.91,593.46 L263.66,593.58 L264.4,593.7 L265.14,593.82 L265.88,593.94 L266.62,594.06 L267.36,594.19 L268.11,594.31 L268.85,594.44 L269.59,594.57 L270.33,594.7 L271.07,594.83 L271.81,594.96 L272.55,595.09 L273.3,595.22 L274.04,595.36 L274.78,595.49 L275.52,595.63 L276.26,595.77 L277,595.91 L277.74,596.04 L278.49,596.19 L279.23,596.33 L279.97,596.47 L280.71,596.61 L281.45,596.76 L282.19,596.9 L282.93,597.05 L283.68,597.2 L284.42,597.34 L285.16,597.49 L285.9,597.64 L286.64,597.79 L287.38,597.95 L288.12,598.1 L288.87,598.25 L289.61,598.41 L290.35,598.56 L291.09,598.72 L291.83,598.87 L292.57,599.03 L293.32,599.19 L294.06,599.34 L294.8,599.5 L295.54,599.66 L296.28,599.82 L297.02,599.98 L297.76,600.15 L298.51,600.31 L299.25,600.47 L299.99,600.63 L300.73,600.8 L301.47,600.96 L302.21,601.13 L302.95,601.29 L303.7,601.46 L304.44,601.63 L305.18,601.79 L305.92,601.96 L306.66,602.13 L307.4,602.3 L308.14,602.47 L308.89,602.64 L309.63,602.81 L310.37,602.98 L311.11,603.15 L311.85,603.32 L312.59,603.49 L313.33,603.66 L314.08,603.83 L314.82,604.01 L315.56,604.18 L316.3,604.35 L317.04,604.53 L317.78,604.7 L318.53,604.87 L319.27,605.05 L320.01,605.22 L320.75,605.39 L321.49,605.57 L322.23,605.74 L322.97,605.92 L323.72,606.09 L324.46,606.27 L325.2,606.44 L325.94,606.62 L326.68,606.79 L327.42,606.97 L328.16,607.15 L328.91,607.32 L329.65,607.5 L330.39,607.67 L331.13,607.85 L331.87,608.02 L332.61,608.2 L333.35,608.38 L334.1,608.55 L334.84,608.73 L335.58,608.9 L336.32,609.08 L337.06,609.25 L337.8,609.43 L338.54,609.6 L339.29,609.78 L340.03,609.95 L340.77,610.13 L341.51,610.3 L342.25,610.47 L342.99,610.65 L343.74,610.82 L344.48,611 L345.22,611.17 L345.96,611.34 L346.7,611.51 L347.44,611.69 L348.18,611.86 L348.93,612.03 L349.67,612.2 L350.41,612.37 L351.15,612.54 L351.89,612.71 L352.63,612.88 L353.37,613.05 L354.12,613.22 L354.86,613.39 L355.6,613.56 L356.34,613.73 L357.08,613.89 L357.82,614.06 L358.56,614.22 L359.31,614.39 L360.05,614.56 L360.79,614.72 L361.53,614.88 L362.27,615.05 L363.01,615.21 L363.75,615.37 L364.5,615.53 L365.24,615.69 L365.98,615.85 L366.72,616.01 L367.46,616.17 L368.2,616.33 L368.95,616.49 L369.69,616.64 L370.43,616.8 L371.17,616.96 L371.91,617.11 L372.65,617.26 L373.39,617.42 L374.14,617.57 L374.88,617.72 L375.62,617.87 L376.36,618.02 L377.1,618.17 L377.84,618.32 L378.58,618.46 L379.33,618.61 L380.07,618.76 L380.81,618.9 L381.55,619.04 L382.29,619.19 L383.03,619.33 L383.77,619.47 L384.52,619.61 L385.26,619.75 L386,619.88 L386.74,620.02 L387.48,620.15 L388.22,620.29 L388.96,620.42 L389.71,620.55 L390.45,620.68 L391.19,620.81 L391.93,620.94 L392.67,621.07 L393.41,621.2 L394.16,621.32 L394.9,621.45 L395.64,621.57 L396.38,621.69 L397.12,621.81 L397.86,621.93 L398.6,622.05 L399.35,622.16 L400.09,622.28 L400.83,622.39 L401.57,622.51 L402.31,622.62 L403.05,622.73 L403.79,622.83 L404.54,622.94 L405.28,623.05 L406.02,623.15 L406.76,623.25 L407.5,623.36 L408.24,623.46 L408.98,623.56 L409.73,623.65 L410.47,623.75 L411.21,623.84 L411.95,623.93 L412.69,624.03 L413.43,624.12 L414.17,624.2 L414.92,624.29 L415.66,624.37 L416.4,624.46 L417.14,624.54 L417.88,624.62 L418.62,624.7 L419.37,624.77 L420.11,624.85 L420.85,624.92 L421.59,624.99 L422.33,625.06 L423.07,625.13 L423.81,625.2 L424.56,625.26 L425.3,625.33 L426.04,625.39 L426.78,625.45 L427.52,625.51 L428.26,625.56 L429,625.62 L429.75,625.67 L430.49,625.72 L431.23,625.77 L431.97,625.81 L432.71,625.86 L433.45,625.9 L434.19,625.94 L434.94,625.98 L435.68,626.02 L436.42,626.05 L437.16,626.08 L437.9,626.11 L438.64,626.14 L439.38,626.17 L440.13,626.19 L440.87,626.22 L441.61,626.24 L442.35,626.26 L443.09,626.27 L443.83,626.29 L444.58,626.3 L445.32,626.31 L446.06,626.32 L446.8,626.32 L447.54,626.33 L448.28,626.33 L449.02,626.33 L449.77,626.32 L450.51,626.32 L451.25,626.31 L451.99,626.3 L452.73,626.29 L453.47,626.27 L454.21,626.26 L454.96,626.24 L455.7,626.22 L456.44,626.19 L457.18,626.17 L457.92,626.14 L458.66,626.11 L459.4,626.07 L460.15,626.04 L460.89,626 L461.63,625.96 L462.37,625.92 L463.11,625.87 L463.85,625.82 L464.59,625.77 L465.34,625.72 L466.08,625.66 L466.82,625.61 L467.56,625.54 L468.3,625.48 L469.04,625.42 L469.79,625.35 L470.53,625.28 L471.27,625.2 L472.01,625.13 L472.75,625.05 L473.49,624.96 L474.23,624.88 L474.98,624.79 L475.72,624.7 L476.46,624.61 L477.2,624.52" fill="none" stroke="#26269c" stroke-width="1.4"/>
<path d="M255.5,520.5 H477.5" stroke="#6a6a6a" stroke-width="1.1" fill="none"/>
<path d="M477.5,520.5 V657.5" stroke="#808080" stroke-width="1.1" fill="none"/>
<path d="M255.5,520 V657.5 H478" stroke="#404040" stroke-width="1.15" fill="none"/>
<line x1="255.5" y1="657.5" x2="255.5" y2="660.1" stroke="#444" stroke-width="1"/>
<text x="255.5" y="667.2" font-size="7.0" font-weight="bold" text-anchor="middle" fill="#111" stroke="#111" stroke-width="0.22" font-family='"Liberation Sans", Arial, sans-serif'>294</text>
<line x1="287.5" y1="657.5" x2="287.5" y2="660.1" stroke="#444" stroke-width="1"/>
<text x="287.17" y="667.2" font-size="7.0" font-weight="bold" text-anchor="middle" fill="#111" stroke="#111" stroke-width="0.22" font-family='"Liberation Sans", Arial, sans-serif'>292</text>
<line x1="318.5" y1="657.5" x2="318.5" y2="660.1" stroke="#444" stroke-width="1"/>
<text x="318.84" y="667.2" font-size="7.0" font-weight="bold" text-anchor="middle" fill="#111" stroke="#111" stroke-width="0.22" font-family='"Liberation Sans", Arial, sans-serif'>290</text>
<line x1="350.5" y1="657.5" x2="350.5" y2="660.1" stroke="#444" stroke-width="1"/>
<text x="350.51" y="667.2" font-size="7.0" font-weight="bold" text-anchor="middle" fill="#111" stroke="#111" stroke-width="0.22" font-family='"Liberation Sans", Arial, sans-serif'>288</text>
<line x1="382.5" y1="657.5" x2="382.5" y2="660.1" stroke="#444" stroke-width="1"/>
<text x="382.19" y="667.2" font-size="7.0" font-weight="bold" text-anchor="middle" fill="#111" stroke="#111" stroke-width="0.22" font-family='"Liberation Sans", Arial, sans-serif'>286</text>
<line x1="413.5" y1="657.5" x2="413.5" y2="660.1" stroke="#444" stroke-width="1"/>
<text x="413.86" y="667.2" font-size="7.0" font-weight="bold" text-anchor="middle" fill="#111" stroke="#111" stroke-width="0.22" font-family='"Liberation Sans", Arial, sans-serif'>284</text>
<line x1="445.5" y1="657.5" x2="445.5" y2="660.1" stroke="#444" stroke-width="1"/>
<text x="445.53" y="667.2" font-size="7.0" font-weight="bold" text-anchor="middle" fill="#111" stroke="#111" stroke-width="0.22" font-family='"Liberation Sans", Arial, sans-serif'>282</text>
<line x1="477.5" y1="657.5" x2="477.5" y2="660.1" stroke="#444" stroke-width="1"/>
<text x="477.2" y="667.2" font-size="7.0" font-weight="bold" text-anchor="middle" fill="#111" stroke="#111" stroke-width="0.22" font-family='"Liberation Sans", Arial, sans-serif'>280</text>
<text x="259.8" y="531.1" font-size="7.3" font-weight="bold" text-anchor="start" fill="#111" stroke="#111" stroke-width="0.22" textLength="15.3" lengthAdjust="spacingAndGlyphs" font-family='"Liberation Sans", Arial, sans-serif'>C 1S</text>
<text x="312.7" y="593" font-size="7.3" font-weight="bold" text-anchor="start" fill="#111" stroke="#111" stroke-width="0.22" textLength="31.2" lengthAdjust="spacingAndGlyphs" font-family='"Liberation Sans", Arial, sans-serif'>289.56eV</text>
<text x="386.2" y="528.9" font-size="7.3" font-weight="bold" text-anchor="start" fill="#111" stroke="#111" stroke-width="0.22" textLength="31.5" lengthAdjust="spacingAndGlyphs" font-family='"Liberation Sans", Arial, sans-serif'>284.83eV</text>
<text x="454.4" y="535.9" font-size="16" font-weight="normal" text-anchor="start" fill="#222" stroke="#222" stroke-width="0.12" textLength="20.5" lengthAdjust="spacingAndGlyphs" font-family='"DejaVu Sans", sans-serif'>(h)</text>
<text x="251.1" y="591.65" font-size="7.0" font-weight="bold" text-anchor="middle" fill="#111" stroke="#111" stroke-width="0.22" textLength="48.7" lengthAdjust="spacingAndGlyphs" transform="rotate(-90 251.1 591.65)" font-family='"Liberation Sans", Arial, sans-serif'>intensity(a.u.)</text>
<text x="333.5" y="679.4" font-size="7.3" font-weight="bold" text-anchor="start" fill="#111" stroke="#111" stroke-width="0.22" textLength="66.6" lengthAdjust="spacingAndGlyphs" font-family='"Liberation Sans", Arial, sans-serif'>Binding energy(eV)</text>
</svg>
</body></html>
